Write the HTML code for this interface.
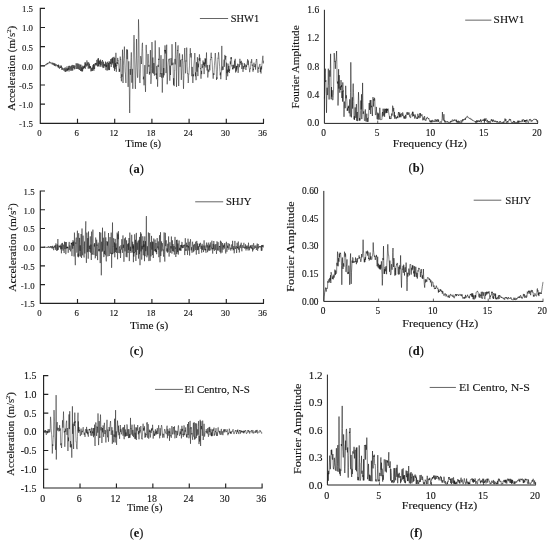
<!DOCTYPE html>
<html lang="en"><head><meta charset="utf-8"><title>Figure</title>
<style>html,body{margin:0;padding:0;background:#fff}svg{display:block}</style></head>
<body>
<svg width="550" height="545" viewBox="0 0 550 545" font-family='"Liberation Serif", serif' fill="#111" stroke="#111" stroke-width="0.12">
<rect width="550" height="545" fill="#fff" stroke="none"/>
<path d="M40.3 65.8L40.5 65.8L40.7 65.8L40.9 65.9L41.0 65.8L41.2 65.7L41.4 65.8L41.8 65.7L42.2 65.9L42.5 65.7L42.7 65.6L42.9 65.9L43.2 65.5L43.3 65.6L43.6 66.0L44.0 65.7L44.4 65.6L44.8 65.1L45.0 65.6L45.1 65.4L45.5 64.5L45.9 65.2L46.3 64.1L46.5 64.5L46.6 64.2L46.9 63.4L47.0 63.9L47.2 64.4L47.4 63.9L47.6 62.9L47.7 63.1L48.0 64.1L48.1 63.7L48.4 63.0L48.5 63.1L48.7 62.7L48.9 62.8L49.1 62.4L49.2 62.7L49.4 62.7L49.6 61.5L50.0 63.4L50.3 62.5L50.6 62.2L50.7 62.5L51.0 63.5L51.1 63.4L51.5 63.1L51.7 62.7L51.8 62.9L52.1 64.4L52.2 64.0L52.5 62.7L52.6 63.3L52.7 63.5L52.8 63.4L52.9 64.0L53.2 65.0L53.3 64.0L53.6 62.9L53.7 63.4L54.1 65.0L54.2 65.6L54.4 63.7L54.6 63.3L54.8 65.9L55.2 63.7L55.6 65.5L55.7 66.3L55.9 65.2L56.0 64.5L56.3 64.7L56.4 64.4L56.7 65.6L57.0 66.2L57.2 66.4L57.4 64.9L57.8 66.3L57.9 65.5L58.2 67.0L58.3 67.9L58.5 64.6L58.8 66.9L58.9 66.9L59.0 65.5L59.3 67.8L59.4 68.8L59.6 67.3L59.8 67.5L60.0 66.8L60.1 66.8L60.4 67.8L60.5 68.0L60.8 65.5L61.1 67.9L61.4 65.7L61.5 66.1L61.8 69.9L61.9 68.7L62.1 67.5L62.2 67.5L62.6 69.7L63.0 68.2L63.2 68.8L63.4 68.7L63.7 70.4L63.9 70.7L64.1 68.8L64.4 69.1L64.5 68.4L64.9 71.6L65.2 67.3L65.6 71.9L66.0 69.1L66.2 68.3L66.3 68.4L66.6 71.3L66.7 71.1L67.0 66.4L67.1 67.5L67.3 71.2L67.5 69.9L67.6 68.7L67.8 70.1L68.2 68.1L68.3 69.7L68.6 66.4L68.7 65.9L68.9 71.3L69.1 71.5L69.3 67.5L69.6 65.8L69.7 67.9L69.8 69.8L70.1 68.9L70.4 66.6L70.6 66.4L70.8 70.9L71.2 67.9L71.4 65.6L71.5 67.9L71.8 70.6L71.9 69.6L72.3 64.9L72.7 70.6L73.0 66.8L73.4 65.0L73.7 67.9L73.8 66.5L74.2 69.4L74.5 65.4L74.9 68.3L75.0 69.1L75.3 67.3L75.5 66.1L75.6 66.2L76.0 64.7L76.1 63.3L76.4 67.1L76.5 68.9L76.8 66.7L77.1 63.4L77.5 68.9L77.9 64.7L78.0 63.5L78.2 64.9L78.6 69.2L79.0 63.9L79.4 70.0L79.7 66.2L79.9 65.9L80.0 66.0L80.1 65.0L80.2 64.6L80.5 70.1L80.6 71.0L80.8 65.8L81.0 64.7L81.2 69.2L81.3 70.9L81.6 68.5L81.7 67.3L82.0 71.7L82.3 65.7L82.6 71.2L82.7 70.5L83.0 68.4L83.1 69.1L83.3 66.5L83.5 66.5L83.7 68.6L83.8 67.1L83.9 66.5L84.1 67.8L84.2 67.2L84.3 65.5L84.6 67.7L84.9 62.4L85.3 68.8L85.7 62.4L85.9 65.2L86.1 64.3L86.4 66.5L86.8 62.7L86.9 60.4L87.2 63.3L87.4 65.6L87.5 64.4L87.8 62.4L87.9 65.7L88.2 68.7L88.3 68.2L88.7 62.3L89.0 67.1L89.3 68.7L89.4 66.7L89.5 63.7L89.8 67.8L90.0 66.2L90.1 66.7L90.4 68.2L90.5 66.6L90.6 66.2L90.9 71.4L91.1 68.0L91.3 68.2L91.6 69.9L91.8 71.1L92.0 68.8L92.1 67.5L92.4 70.5L92.5 70.9L92.8 66.5L92.9 65.2L93.1 69.1L93.2 69.4L93.5 64.1L93.9 70.8L94.2 64.4L94.6 69.0L95.0 63.3L95.4 65.4L95.6 63.2L95.7 63.7L95.9 64.2L96.1 62.9L96.5 65.4L96.8 59.9L97.2 64.7L97.5 66.5L97.6 64.9L97.8 58.6L98.0 60.8L98.2 66.1L98.3 61.7L98.5 58.2L98.7 63.9L98.8 66.5L99.1 61.2L99.2 60.7L99.4 63.8L99.6 64.2L99.8 61.4L99.9 60.6L100.2 66.6L100.3 66.9L100.6 59.6L100.9 65.3L101.3 62.2L101.4 61.6L101.7 63.2L102.1 66.8L102.4 61.7L102.5 60.0L102.8 64.7L103.0 68.1L103.2 67.1L103.5 61.7L103.9 67.8L104.2 63.9L104.3 65.1L104.4 65.4L104.5 65.0L104.7 65.5L104.9 64.4L105.0 65.3L105.3 66.7L105.4 64.5L105.5 61.6L105.8 66.9L105.9 70.1L106.1 65.5L106.3 62.6L106.5 66.9L106.8 64.8L106.9 66.2L107.1 70.7L107.3 68.6L107.5 61.8L107.6 61.8L108.0 69.6L108.1 69.8L108.4 67.5L108.6 62.9L108.7 66.3L108.9 70.2L109.1 61.4L109.2 61.2L109.5 70.0L109.9 62.9L110.1 61.9L110.2 63.0L110.4 64.0L110.6 60.0L110.7 59.1L111.0 64.2L111.2 67.0L111.4 65.1L111.6 58.5L111.7 60.3L112.1 64.5L112.5 58.2L112.7 63.2L112.8 58.5L113.0 57.1L113.2 60.5L113.6 67.7L114.0 56.9L114.1 56.8L114.3 68.5L114.5 70.9L114.7 58.8L114.8 58.0L115.1 69.2L115.4 63.2L115.7 66.8L115.8 63.6L115.9 52.8L116.2 69.7L116.3 71.8L116.6 66.8L116.7 65.5L116.8 66.0L116.9 65.0L117.2 62.0L117.3 64.1L117.7 57.9L118.0 60.8L118.2 60.4L118.4 62.6L118.8 65.4L119.2 72.0L119.4 68.8L119.5 69.6L119.7 71.5L119.9 66.8L120.2 56.6L120.3 57.4L120.4 59.5L120.5 59.1L120.7 59.3L121.0 78.0L121.1 77.6L121.4 81.3L121.8 74.2L121.9 76.9L122.1 69.4L122.5 49.7L122.9 67.7L123.0 83.0L123.3 65.6L123.6 60.7L124.0 55.3L124.4 46.6L124.7 58.5L125.1 71.7L125.5 74.8L125.9 83.0L126.2 67.9L126.6 49.8L126.7 49.3L127.0 54.1L127.2 59.2L127.3 55.3L127.5 49.7L127.7 54.6L128.1 86.9L128.5 71.0L128.8 61.3L129.2 82.8L129.6 108.4L129.7 113.0L130.0 88.8L130.2 69.0L130.3 74.0L130.4 74.8L130.7 65.6L131.1 57.2L131.3 52.4L131.4 57.7L131.8 82.7L132.2 71.6L132.3 68.9L132.6 75.7L132.8 88.8L132.9 84.0L133.3 59.0L133.7 41.2L134.0 35.1L134.4 43.0L134.8 70.2L135.2 86.1L135.4 88.9L135.5 84.7L135.9 66.1L136.3 55.6L136.5 39.0L136.6 42.0L137.0 67.8L137.4 76.1L137.6 77.7L137.8 77.0L138.1 58.6L138.5 19.4L138.9 32.9L139.3 68.2L139.6 80.1L139.9 83.0L140.0 82.3L140.4 73.2L140.7 56.1L141.1 59.2L141.4 64.0L141.5 62.6L141.9 51.7L142.2 44.2L142.5 42.8L142.6 48.4L143.0 64.9L143.3 79.3L143.6 76.7L143.7 77.8L144.0 85.3L144.1 85.2L144.5 73.9L144.8 65.1L145.2 83.6L145.5 91.9L145.6 86.6L145.9 56.9L146.2 44.9L146.3 49.2L146.7 53.3L147.1 73.8L147.2 73.9L147.4 72.2L147.8 59.0L148.1 54.0L148.2 55.8L148.6 63.4L148.8 66.7L148.9 65.5L149.0 64.9L149.3 72.2L149.4 74.7L149.5 71.9L149.7 72.2L149.8 73.4L150.0 70.4L150.4 50.1L150.8 78.6L150.9 83.9L151.2 79.3L151.5 68.4L151.9 42.6L152.0 42.0L152.3 50.6L152.6 72.9L152.9 57.5L153.0 60.6L153.3 73.8L153.4 71.0L153.8 63.5L153.9 63.0L154.1 65.5L154.4 75.6L154.5 73.4L154.9 54.9L155.2 40.5L155.6 59.0L156.0 75.0L156.2 73.4L156.4 76.4L156.5 79.2L156.7 66.1L156.9 66.1L157.1 71.4L157.5 81.7L157.6 86.7L157.9 76.2L158.1 64.8L158.2 66.5L158.3 67.0L158.6 61.0L158.7 58.8L158.8 60.0L159.0 57.1L159.2 47.3L159.3 48.5L159.7 60.7L160.1 77.0L160.3 73.5L160.5 74.1L160.8 58.2L161.0 55.2L161.2 59.1L161.6 72.3L161.7 77.7L161.9 73.0L162.3 92.6L162.7 76.1L163.1 58.9L163.4 77.5L163.7 68.0L163.8 68.7L164.1 75.3L164.2 71.6L164.5 50.6L164.7 49.9L164.9 51.3L165.0 45.4L165.3 53.5L165.5 50.0L165.7 51.8L166.0 73.1L166.4 66.7L166.7 44.7L166.8 68.8L167.2 84.3L167.5 79.0L167.9 66.7L168.3 62.2L168.6 60.1L168.8 60.1L169.0 59.0L169.1 59.5L169.3 58.6L169.4 59.4L169.8 80.7L170.1 65.6L170.5 75.0L170.9 59.2L171.0 58.1L171.2 61.9L171.5 65.3L171.6 63.0L172.0 44.2L172.4 56.0L172.7 65.1L173.0 62.7L173.1 66.6L173.5 84.8L173.7 78.2L173.8 79.2L174.1 86.1L174.2 85.0L174.6 70.5L174.7 70.7L175.0 58.9L175.2 64.4L175.3 57.9L175.6 42.0L175.7 42.2L176.1 54.6L176.5 86.9L176.8 71.4L177.2 58.2L177.6 50.2L177.7 50.8L177.9 46.1L178.1 45.4L178.3 61.1L178.7 86.0L179.1 70.7L179.4 54.9L179.6 53.4L179.8 56.4L180.0 66.8L180.2 66.4L180.5 60.6L180.7 59.8L180.9 68.6L181.3 79.9L181.7 69.9L181.9 59.4L182.0 59.6L182.2 60.1L182.4 54.4L182.8 64.4L183.1 75.4L183.5 88.8L183.9 75.4L184.1 61.3L184.3 61.4L184.6 49.4L184.8 48.0L185.0 59.2L185.4 64.1L185.6 73.3L185.8 70.3L186.0 60.6L186.1 60.7L186.2 61.4L186.5 52.3L186.7 47.6L186.9 50.1L187.2 66.2L187.6 73.8L187.7 73.4L188.0 78.4L188.2 83.0L188.4 81.6L188.7 73.9L188.9 74.2L189.1 72.3L189.5 65.8L189.8 54.1L190.0 54.3L190.2 49.4L190.3 48.2L190.6 56.0L191.0 57.5L191.3 53.1L191.7 74.3L191.8 76.2L192.1 72.4L192.2 66.9L192.4 72.8L192.8 82.7L192.9 83.0L193.2 76.2L193.3 74.3L193.4 76.3L193.6 74.7L193.9 65.1L194.3 60.3L194.7 56.0L194.8 53.0L195.1 59.9L195.4 76.3L195.5 72.4L195.8 76.2L196.0 80.2L196.2 79.6L196.5 62.2L196.9 69.4L197.0 71.7L197.3 60.9L197.4 57.2L197.7 66.4L197.9 76.1L198.0 69.8L198.2 63.6L198.4 67.3L198.8 60.4L198.9 58.7L199.0 59.5L199.1 59.5L199.4 54.3L199.5 54.7L199.8 61.1L199.9 57.9L200.3 65.7L200.4 68.6L200.5 68.0L200.6 72.5L201.0 78.7L201.4 72.0L201.5 70.9L201.7 74.2L202.0 64.2L202.1 64.7L202.2 68.1L202.5 67.0L202.6 66.7L202.7 67.0L202.9 64.5L203.0 60.5L203.2 64.4L203.4 64.8L203.6 62.3L204.0 69.9L204.1 74.1L204.4 64.3L204.5 62.6L204.7 66.2L205.0 58.3L205.1 58.8L205.2 63.8L205.5 61.2L205.6 58.7L205.8 67.4L206.0 67.4L206.2 60.6L206.5 52.5L206.6 57.6L207.0 69.1L207.1 70.5L207.3 65.1L207.7 76.8L207.8 77.5L208.1 74.8L208.4 69.7L208.6 69.7L208.8 72.1L208.9 72.1L209.2 67.2L209.3 64.9L209.6 67.8L209.8 70.4L209.9 70.2L210.3 61.3L210.4 59.6L210.7 60.0L211.0 54.3L211.2 52.7L211.4 57.1L211.5 58.0L211.7 57.3L211.8 58.5L212.2 62.7L212.5 69.4L212.9 75.9L213.2 78.7L213.3 77.4L213.7 73.2L213.9 75.0L214.0 73.0L214.4 65.7L214.8 60.3L215.1 55.4L215.3 53.0L215.5 56.3L215.9 61.7L216.3 69.4L216.5 80.0L216.6 79.4L216.9 77.4L217.0 77.7L217.1 78.8L217.4 71.5L217.7 63.0L218.0 57.9L218.1 58.4L218.5 52.9L218.6 52.3L218.9 55.9L219.2 60.4L219.6 66.5L220.0 72.0L220.2 75.3L220.3 74.3L220.5 72.5L220.7 77.8L220.8 79.2L221.1 75.2L221.5 70.8L221.8 45.9L222.1 70.3L222.2 69.0L222.6 66.5L223.0 69.6L223.1 69.9L223.3 68.9L223.7 65.6L224.1 59.6L224.3 66.8L224.4 63.9L224.8 55.5L224.9 54.9L225.2 59.5L225.3 59.3L225.4 59.4L225.6 57.4L225.7 56.2L225.8 57.1L225.9 56.4L226.3 80.0L226.5 62.7L226.7 63.6L227.0 73.2L227.3 69.6L227.4 69.9L227.7 76.3L227.8 72.8L228.0 63.6L228.2 65.9L228.4 72.0L228.5 70.1L228.8 65.9L228.9 67.3L229.3 73.0L229.4 69.4L229.6 70.9L230.0 67.4L230.3 61.4L230.4 63.1L230.5 64.3L230.8 58.6L230.9 57.3L231.1 59.0L231.4 57.2L231.5 58.1L231.9 66.2L232.0 66.5L232.1 65.2L232.3 65.2L232.5 69.2L232.6 67.7L232.7 67.6L233.0 69.4L233.4 65.8L233.5 64.8L233.7 66.8L233.9 68.4L234.1 65.6L234.2 68.1L234.5 61.0L234.6 60.6L234.9 65.8L235.2 58.8L235.6 72.5L236.0 65.9L236.3 71.4L236.6 65.9L236.7 67.5L236.8 69.5L237.1 66.8L237.2 66.5L237.3 67.1L237.5 66.9L237.7 63.7L237.8 66.5L238.1 72.9L238.2 72.4L238.6 67.7L238.7 67.9L238.9 64.4L239.1 64.2L239.3 67.1L239.7 60.3L239.9 58.8L240.1 60.2L240.3 62.8L240.4 61.7L240.8 64.7L241.2 62.7L241.3 60.8L241.6 64.1L241.8 69.0L241.9 67.6L242.2 62.7L242.3 64.6L242.7 67.2L243.0 71.9L243.4 66.1L243.8 68.5L243.9 69.1L244.2 65.1L244.3 63.1L244.5 66.8L244.7 67.2L244.8 66.7L244.9 66.8L245.1 64.4L245.3 65.5L245.4 66.3L245.5 66.3L245.6 67.9L245.9 70.0L246.0 69.7L246.3 64.9L246.4 65.7L246.5 67.1L246.8 65.2L247.1 63.1L247.5 60.2L247.6 59.2L247.9 63.9L248.0 65.0L248.2 60.8L248.4 60.5L248.6 64.8L249.0 67.0L249.4 69.0L249.7 72.2L250.1 68.7L250.2 68.7L250.5 69.0L250.9 62.5L251.0 61.7L251.2 62.7L251.6 59.4L251.7 59.1L252.0 63.3L252.2 65.7L252.3 64.8L252.5 64.7L252.7 68.8L253.0 71.7L253.1 69.9L253.2 68.7L253.5 70.1L253.8 63.8L254.0 62.7L254.2 66.9L254.3 67.0L254.6 66.9L254.7 66.7L254.9 67.0L255.2 64.2L255.3 64.3L255.6 69.6L255.7 65.5L256.1 61.2L256.2 61.3L256.4 59.1L256.7 59.7L256.8 59.4L257.2 65.6L257.5 68.8L257.9 72.0L258.0 72.8L258.3 69.5L258.4 67.5L258.7 68.8L258.8 68.8L259.0 66.5L259.2 66.6L259.4 65.4L259.8 64.5L259.9 63.9L260.2 68.4L260.3 72.0L260.5 68.0L260.6 67.5L260.9 72.8L261.0 73.5L261.3 66.2L261.6 69.4L262.0 63.8L262.4 60.2L262.8 56.5L262.9 55.8L263.1 62.3L263.3 63.4L263.5 60.7" fill="none" stroke="#000" stroke-width="0.44" stroke-linejoin="miter" stroke-miterlimit="3"/>
<g stroke="#222" stroke-width="1.15" fill="none">
<path d="M40.30 7.80V123.30H264.00M40.30 8.30h4.7M40.30 27.47h4.7M40.30 46.63h4.7M40.30 65.80h4.7M40.30 84.97h4.7M40.30 104.13h4.7M77.50 123.30v-4.5M114.70 123.30v-4.5M151.90 123.30v-4.5M189.10 123.30v-4.5M226.30 123.30v-4.5M263.50 123.30v-4.5"/>
</g>
<g font-size="8.8">
<text x="33.0" y="12.2" text-anchor="end">1.5</text>
<text x="33.0" y="31.4" text-anchor="end">1.0</text>
<text x="33.0" y="50.5" text-anchor="end">0.5</text>
<text x="33.0" y="69.7" text-anchor="end">0.0</text>
<text x="33.0" y="88.9" text-anchor="end">-0.5</text>
<text x="33.0" y="108.0" text-anchor="end">-1.0</text>
<text x="33.0" y="127.2" text-anchor="end">-1.5</text>
<text x="39.4" y="135.9" text-anchor="middle">0</text>
<text x="76.6" y="135.9" text-anchor="middle">6</text>
<text x="113.8" y="135.9" text-anchor="middle">12</text>
<text x="151.0" y="135.9" text-anchor="middle">18</text>
<text x="188.2" y="135.9" text-anchor="middle">24</text>
<text x="225.4" y="135.9" text-anchor="middle">30</text>
<text x="262.6" y="135.9" text-anchor="middle">36</text>
</g>
<text font-size="10.6" transform="translate(125.30 147.00) scale(0.9988 1)">Time (s)</text>
<text font-size="10.7" transform="translate(14.70 110.70) rotate(-90) scale(1.0211 1)">Acceleration (m/s<tspan font-size="6.42" dy="-3.3">2</tspan><tspan dy="3.3">)</tspan></text>
<path d="M40.3 247.2L40.4 247.2L40.7 247.2L41.0 247.4L41.2 247.4L41.4 247.1L41.7 247.0L41.8 247.1L42.0 247.4L42.2 247.4L42.3 247.2L42.5 247.5L42.7 247.6L42.9 246.9L43.0 246.8L43.3 247.2L43.4 247.4L43.6 247.1L43.9 247.3L44.0 247.0L44.3 246.5L44.4 246.7L44.8 247.9L45.1 247.0L45.4 246.9L45.5 247.0L45.8 247.1L45.9 247.1L46.0 247.0L46.3 247.5L46.4 247.5L46.6 247.0L46.7 246.9L47.0 247.5L47.1 247.8L47.4 247.5L47.6 246.8L47.7 247.0L48.1 247.6L48.5 246.3L48.9 247.5L49.2 246.7L49.6 247.7L50.0 248.0L50.3 246.5L50.5 246.1L50.7 247.4L50.8 247.5L51.1 246.4L51.3 247.7L51.5 247.6L51.8 246.3L52.2 248.7L52.6 245.8L52.9 247.4L53.1 248.0L53.3 246.9L53.7 250.2L54.1 247.6L54.3 245.8L54.4 246.5L54.6 246.3L54.8 247.4L54.9 247.7L55.2 245.5L55.3 245.1L55.6 249.8L55.9 243.4L56.3 246.5L56.7 250.2L56.8 251.0L57.0 246.2L57.2 244.4L57.4 249.0L57.5 250.3L57.8 239.7L57.9 239.0L58.2 249.9L58.5 247.7L58.9 245.5L59.3 247.1L59.5 246.2L59.6 246.2L59.9 247.5L60.0 247.3L60.3 244.7L60.4 245.8L60.6 249.3L60.8 248.3L61.0 245.9L61.1 247.6L61.4 253.3L61.5 251.1L61.8 243.5L61.9 246.7L62.0 249.2L62.2 244.2L62.4 242.9L62.6 245.1L63.0 250.7L63.4 245.9L63.6 244.6L63.7 244.9L64.1 253.0L64.5 244.3L64.6 241.6L64.9 247.6L65.0 249.1L65.2 245.7L65.3 242.1L65.6 247.4L65.8 254.2L66.0 252.4L66.3 242.0L66.7 248.5L66.8 246.8L67.1 248.2L67.5 246.8L67.6 248.1L67.8 246.9L68.2 252.8L68.6 246.7L68.9 244.0L69.2 241.9L69.3 242.6L69.7 249.9L69.9 245.4L70.1 245.7L70.4 251.4L70.7 250.0L70.8 250.0L71.2 242.7L71.4 244.3L71.5 243.0L71.9 255.6L72.0 256.1L72.3 243.5L72.4 242.2L72.7 248.7L73.0 240.2L73.4 245.8L73.7 241.6L73.8 249.5L74.0 256.5L74.2 254.1L74.4 232.6L74.5 233.6L74.9 250.8L75.3 265.2L75.6 242.6L75.8 243.6L76.0 239.1L76.3 237.6L76.4 239.9L76.8 251.7L76.9 252.7L77.1 244.9L77.4 230.7L77.5 237.9L77.9 256.6L78.1 253.5L78.2 255.7L78.4 257.3L78.6 239.7L78.7 233.2L79.0 248.0L79.1 256.3L79.4 245.3L79.6 237.9L79.7 242.7L80.0 250.9L80.1 249.0L80.2 245.3L80.5 253.9L80.6 256.6L80.8 244.7L81.1 234.0L81.2 242.0L81.5 258.0L81.6 257.6L82.0 228.5L82.3 251.7L82.6 255.3L82.7 250.8L83.1 235.6L83.5 246.4L83.8 255.4L84.1 257.5L84.2 256.2L84.6 241.5L84.9 253.5L85.3 235.2L85.7 225.4L85.8 221.3L86.1 252.2L86.4 262.9L86.8 237.2L86.9 232.6L87.2 241.8L87.4 252.2L87.5 248.3L87.8 238.1L87.9 244.3L88.2 258.7L88.3 251.1L88.5 231.5L88.7 247.6L88.9 250.8L89.0 250.6L89.2 251.9L89.4 245.7L89.8 249.2L90.1 242.0L90.3 236.4L90.5 247.8L90.6 252.7L90.9 244.6L91.3 260.0L91.6 231.6L92.0 254.5L92.1 254.9L92.3 253.7L92.4 254.0L92.8 235.6L92.9 229.6L93.1 242.5L93.5 250.7L93.9 254.9L94.2 244.4L94.4 246.5L94.6 243.0L95.0 248.2L95.2 258.3L95.4 257.9L95.7 237.5L96.1 247.0L96.2 256.1L96.5 243.8L96.7 239.7L96.8 242.5L97.0 245.7L97.2 244.6L97.6 260.1L98.0 244.1L98.1 242.6L98.3 243.7L98.7 248.7L98.8 251.1L99.1 249.0L99.2 251.4L99.4 242.6L99.6 232.0L99.8 242.5L100.2 263.1L100.6 239.8L100.8 232.6L100.9 237.0L101.3 275.3L101.7 241.7L102.1 251.7L102.2 251.8L102.4 247.5L102.5 227.7L102.8 250.6L102.9 250.8L103.2 243.2L103.3 237.7L103.5 242.4L103.8 257.1L103.9 257.0L104.2 250.8L104.3 253.0L104.4 254.0L104.7 237.4L104.8 231.4L105.0 246.4L105.3 255.3L105.4 253.0L105.8 237.4L106.1 259.3L106.3 261.4L106.5 254.8L106.9 241.1L107.3 245.6L107.5 241.8L107.6 245.9L107.9 256.4L108.0 252.8L108.4 238.1L108.5 233.0L108.7 243.9L109.0 255.5L109.1 255.0L109.4 255.7L109.5 254.2L109.9 240.4L110.0 237.1L110.2 251.2L110.5 253.8L110.6 253.2L111.0 240.9L111.2 232.6L111.4 239.9L111.6 267.8L111.7 264.7L111.8 252.9L112.1 254.1L112.5 222.5L112.8 254.2L113.2 246.1L113.3 246.3L113.6 240.3L113.7 238.2L114.0 246.3L114.1 253.0L114.3 247.8L114.5 242.5L114.7 252.4L114.8 257.3L115.1 243.9L115.2 238.9L115.4 250.0L115.6 252.1L115.8 244.5L115.9 243.5L116.2 249.7L116.4 247.8L116.6 252.2L116.7 253.0L116.9 248.2L117.2 232.6L117.3 250.3L117.6 259.3L117.7 253.4L117.9 234.3L118.0 236.6L118.2 239.2L118.4 231.2L118.8 252.5L118.9 253.0L119.2 248.4L119.4 246.4L119.5 246.7L119.9 251.7L120.0 253.3L120.3 249.5L120.5 258.0L120.7 255.7L120.9 245.3L121.0 246.5L121.3 249.6L121.4 246.4L121.8 239.2L122.1 244.7L122.4 252.9L122.5 249.8L122.9 235.8L123.0 235.4L123.3 247.9L123.5 244.7L123.6 245.9L123.9 261.8L124.0 261.4L124.4 239.5L124.5 238.5L124.7 245.1L125.0 251.4L125.1 250.5L125.5 237.4L125.9 246.9L126.1 256.8L126.2 255.8L126.6 240.3L127.0 257.3L127.3 247.4L127.7 244.1L128.1 253.0L128.3 243.1L128.5 245.1L128.7 249.9L128.8 243.5L129.0 238.0L129.2 251.3L129.3 261.1L129.6 249.1L129.8 232.6L130.0 237.1L130.3 249.6L130.4 251.0L130.7 246.7L130.9 252.9L131.1 251.5L131.4 247.5L131.7 234.8L131.8 236.0L132.2 251.5L132.3 252.5L132.6 242.9L132.7 241.7L132.9 248.5L133.2 244.1L133.3 249.9L133.4 262.2L133.5 245.6L133.7 245.6L133.9 256.6L134.0 254.8L134.2 252.1L134.3 253.1L134.4 250.5L134.7 234.3L134.8 239.6L135.2 251.9L135.5 239.8L135.9 261.0L136.3 233.1L136.4 232.9L136.6 254.4L136.8 254.9L137.0 242.7L137.1 242.8L137.3 242.7L137.4 244.0L137.6 249.8L137.8 248.6L138.1 240.8L138.5 258.6L138.9 244.7L139.0 239.8L139.3 252.0L139.4 254.2L139.6 236.9L140.0 265.2L140.4 244.2L140.6 232.2L140.7 233.5L141.0 251.4L141.1 248.3L141.2 233.7L141.5 253.3L141.7 259.6L141.9 256.2L142.1 245.8L142.2 248.7L142.4 249.3L142.6 243.8L142.8 236.3L143.0 238.5L143.3 255.3L143.6 240.8L143.7 242.6L143.8 247.1L144.1 244.4L144.5 261.2L144.8 236.4L145.1 256.2L145.2 254.6L145.5 241.2L145.6 242.7L145.8 251.2L145.9 250.3L146.3 217.4L146.4 216.1L146.7 250.7L146.9 257.3L147.1 254.4L147.3 246.2L147.4 246.4L147.8 255.4L148.2 239.7L148.4 232.5L148.6 237.1L148.9 261.1L149.3 242.8L149.7 233.1L150.0 257.1L150.2 260.8L150.4 248.2L150.5 242.2L150.8 248.5L151.0 256.4L151.2 254.0L151.5 235.9L151.9 249.6L152.3 241.5L152.5 255.1L152.6 253.3L152.9 242.1L153.0 245.9L153.3 258.0L153.4 255.9L153.8 238.5L154.1 248.2L154.3 251.2L154.5 248.7L154.9 242.5L155.1 239.6L155.2 245.1L155.4 250.8L155.5 249.1L155.6 250.4L155.7 252.2L156.0 243.0L156.4 252.0L156.6 250.4L156.7 254.2L157.1 238.9L157.2 238.1L157.5 245.9L157.6 247.6L157.7 246.7L157.9 247.5L158.1 249.7L158.2 245.4L158.3 241.4L158.6 249.3L158.8 257.2L159.0 254.7L159.3 241.2L159.5 235.2L159.7 245.6L160.0 262.3L160.1 255.3L160.5 232.2L160.8 256.0L161.2 246.4L161.6 241.4L161.8 251.4L161.9 251.1L162.3 243.1L162.7 247.6L162.8 250.0L162.9 249.8L163.1 250.4L163.3 249.8L163.4 254.2L163.6 256.7L163.8 246.8L164.1 232.4L164.2 234.9L164.5 254.5L164.8 261.6L164.9 257.1L165.3 232.8L165.7 245.8L165.8 246.2L166.0 243.2L166.2 240.3L166.4 251.0L166.5 251.4L166.8 250.4L167.0 248.4L167.2 249.1L167.4 252.7L167.5 251.6L167.8 243.7L167.9 247.4L168.0 251.8L168.3 246.2L168.6 236.4L169.0 254.7L169.1 256.6L169.4 250.6L169.8 247.1L169.9 242.2L170.1 247.3L170.4 252.8L170.5 252.1L170.9 246.1L171.1 248.5L171.2 242.8L171.4 236.5L171.6 245.3L171.9 253.6L172.0 251.3L172.4 240.3L172.7 251.1L173.1 244.1L173.5 250.9L173.7 251.6L173.8 248.6L174.0 246.0L174.2 252.4L174.3 254.6L174.6 250.3L175.0 236.9L175.3 248.6L175.6 247.6L175.7 252.7L175.8 257.0L176.1 252.0L176.5 240.0L176.8 254.0L177.2 239.7L177.6 252.2L177.9 243.5L178.3 254.6L178.7 246.5L179.1 240.5L179.4 250.0L179.7 247.8L179.8 249.3L179.9 251.0L180.2 249.8L180.3 248.8L180.4 249.7L180.5 247.9L180.7 245.0L180.9 250.3L181.0 250.9L181.3 247.0L181.4 244.8L181.7 247.5L181.9 241.9L182.0 242.0L182.4 248.2L182.8 245.3L183.1 248.0L183.4 247.0L183.5 247.2L183.8 245.0L183.9 245.1L184.0 246.4L184.3 244.5L184.6 253.2L184.8 255.1L185.0 249.8L185.3 238.2L185.4 243.2L185.8 250.9L186.0 249.4L186.1 250.6L186.5 242.7L186.9 247.0L187.1 245.0L187.2 246.9L187.5 254.9L187.6 253.5L188.0 238.7L188.2 247.5L188.4 247.3L188.5 246.2L188.7 249.8L188.9 250.6L189.1 243.1L189.2 241.8L189.5 252.0L189.6 255.5L189.8 249.0L190.2 243.8L190.5 239.2L190.6 240.7L191.0 248.1L191.2 250.3L191.3 250.3L191.6 247.2L191.7 249.7L192.0 252.8L192.1 251.3L192.4 241.9L192.6 241.7L192.8 244.6L193.2 251.1L193.3 252.2L193.6 247.5L193.7 244.7L193.9 249.7L194.1 251.2L194.3 247.3L194.6 243.9L194.7 244.3L195.1 248.2L195.3 249.9L195.4 248.4L195.7 241.7L195.8 243.0L196.2 252.6L196.3 254.6L196.5 246.8L196.8 240.9L196.9 242.9L197.3 250.2L197.7 243.4L198.0 249.5L198.2 249.9L198.4 246.2L198.8 251.8L198.9 254.0L199.1 250.0L199.4 244.0L199.5 244.5L199.6 246.7L199.9 243.5L200.1 244.3L200.3 243.3L200.4 242.8L200.6 247.6L200.9 248.9L201.0 248.5L201.4 245.7L201.7 252.7L202.1 243.8L202.4 249.9L202.5 249.1L202.7 246.9L202.9 247.1L203.1 245.5L203.2 247.1L203.5 252.1L203.6 249.1L204.0 241.0L204.1 240.3L204.4 245.6L204.7 250.2L205.0 245.5L205.1 246.7L205.5 250.3L205.7 249.1L205.8 251.5L206.0 252.8L206.2 245.7L206.5 242.6L206.6 243.6L207.0 247.5L207.2 244.8L207.3 246.6L207.6 252.2L207.7 250.0L208.1 245.5L208.3 242.6L208.4 246.1L208.7 250.5L208.8 249.1L209.1 245.8L209.2 248.4L209.3 250.8L209.6 246.7L209.7 244.5L209.9 247.3L210.3 242.4L210.7 249.2L210.8 250.4L211.0 249.0L211.3 247.7L211.4 248.2L211.8 241.8L211.9 240.7L212.2 249.1L212.4 248.0L212.5 250.5L212.7 253.6L212.9 248.1L213.2 243.9L213.3 247.1L213.4 249.3L213.7 245.1L213.8 241.0L214.0 245.8L214.3 251.0L214.4 250.1L214.8 245.8L214.9 244.6L215.1 245.9L215.4 249.9L215.5 249.7L215.9 244.0L216.3 250.4L216.5 253.9L216.6 251.3L217.0 241.3L217.4 247.7L217.6 250.5L217.7 247.9L218.1 242.2L218.5 249.0L218.7 250.5L218.9 250.5L219.2 246.5L219.4 246.2L219.6 246.9L219.7 246.1L220.0 252.1L220.3 242.0L220.5 240.7L220.7 249.9L220.8 253.4L221.1 248.8L221.3 241.7L221.5 243.4L221.8 249.5L222.1 252.6L222.2 251.9L222.6 243.0L223.0 249.0L223.1 249.7L223.3 245.5L223.4 245.5L223.7 247.3L223.8 247.3L224.1 244.5L224.3 248.6L224.4 246.7L224.7 243.0L224.8 243.2L225.2 248.8L225.6 252.1L225.8 253.5L225.9 250.0L226.3 242.5L226.4 241.8L226.7 246.8L226.9 251.8L227.0 250.9L227.4 247.0L227.5 245.7L227.8 248.0L228.0 243.1L228.2 243.9L228.5 248.3L228.9 249.8L229.3 244.6L229.4 243.8L229.6 245.3L229.8 244.9L230.0 248.0L230.1 248.6L230.3 247.7L230.4 248.3L230.8 250.6L231.1 248.5L231.4 249.1L231.5 247.6L231.8 244.4L231.9 246.4L232.1 248.9L232.3 248.7L232.6 240.8L233.0 249.0L233.1 250.4L233.4 248.7L233.5 249.4L233.7 246.7L233.9 246.0L234.1 250.7L234.2 253.3L234.5 249.4L234.9 240.9L235.2 246.5L235.5 249.0L235.6 248.3L236.0 247.0L236.2 246.1L236.3 246.7L236.6 253.0L236.7 252.2L237.1 242.8L237.5 248.1L237.6 247.3L237.8 248.5L238.2 243.3L238.3 241.5L238.6 247.3L238.7 249.8L238.9 247.2L239.1 246.4L239.3 252.5L239.7 247.6L239.8 245.9L239.9 246.1L240.1 246.1L240.3 244.7L240.4 244.7L240.7 248.1L240.8 247.5L241.2 242.7L241.6 249.5L241.9 251.3L242.3 245.9L242.4 245.2L242.7 247.0L242.8 247.2L242.9 247.0L243.0 247.6L243.2 248.0L243.3 247.6L243.4 247.7L243.8 243.4L243.9 242.8L244.2 246.4L244.4 248.5L244.5 248.4L244.8 246.8L244.9 247.0L245.3 248.4L245.5 244.3L245.6 245.2L246.0 250.5L246.4 245.7L246.8 248.8L247.0 247.7L247.1 248.2L247.3 248.3L247.5 245.9L247.8 245.5L247.9 245.8L248.1 250.5L248.2 247.5L248.5 242.7L248.6 244.3L248.9 248.3L249.0 247.9L249.1 247.1L249.4 250.3L249.7 246.7L249.9 246.5L250.0 247.0L250.1 246.9L250.4 245.6L250.5 247.1L250.6 248.3L250.9 245.8L251.0 245.2L251.2 247.3L251.3 247.7L251.5 246.9L251.6 247.2L251.7 248.9L252.0 247.6L252.2 244.8L252.3 246.7L252.6 251.5L252.7 249.7L252.8 248.2L253.1 249.8L253.2 250.2L253.5 244.6L253.6 243.2L253.8 244.4L254.2 248.6L254.3 248.9L254.6 247.2L254.8 245.7L254.9 246.2L255.3 247.9L255.4 248.0L255.7 247.1L255.9 245.4L256.1 246.4L256.3 250.0L256.4 249.6L256.7 247.8L256.8 248.0L257.2 243.5L257.5 249.7L257.7 250.8L257.9 247.1L258.2 244.0L258.3 245.7L258.5 248.4L258.7 247.7L258.9 246.7L259.0 247.1L259.3 247.2L259.4 246.8L259.5 246.4L259.8 247.0L260.0 246.3L260.2 247.2L260.3 247.3L260.4 247.2L260.5 247.2L260.8 246.0L260.9 246.5L261.3 250.8L261.6 245.1L261.9 250.7L262.0 250.1L262.3 245.0L262.4 245.6L262.8 247.0L263.1 244.9L263.5 247.6" fill="none" stroke="#000" stroke-width="0.44" stroke-linejoin="miter" stroke-miterlimit="3"/>
<g stroke="#222" stroke-width="1.15" fill="none">
<path d="M40.30 190.50V303.40H264.00M40.30 191.00h4.7M40.30 209.73h4.7M40.30 228.47h4.7M40.30 247.20h4.7M40.30 265.93h4.7M40.30 284.67h4.7M77.50 303.40v-4.5M114.70 303.40v-4.5M151.90 303.40v-4.5M189.10 303.40v-4.5M226.30 303.40v-4.5M263.50 303.40v-4.5"/>
</g>
<g font-size="8.8">
<text x="34.6" y="194.9" text-anchor="end">1.5</text>
<text x="34.6" y="213.6" text-anchor="end">1.0</text>
<text x="34.6" y="232.4" text-anchor="end">0.5</text>
<text x="34.6" y="251.1" text-anchor="end">0.0</text>
<text x="34.6" y="269.8" text-anchor="end">-0.5</text>
<text x="34.6" y="288.6" text-anchor="end">-1.0</text>
<text x="34.6" y="307.3" text-anchor="end">-1.5</text>
<text x="39.4" y="316.2" text-anchor="middle">0</text>
<text x="76.6" y="316.2" text-anchor="middle">6</text>
<text x="113.8" y="316.2" text-anchor="middle">12</text>
<text x="151.0" y="316.2" text-anchor="middle">18</text>
<text x="188.2" y="316.2" text-anchor="middle">24</text>
<text x="225.4" y="316.2" text-anchor="middle">30</text>
<text x="262.6" y="316.2" text-anchor="middle">36</text>
</g>
<text font-size="10.8" transform="translate(130.00 328.60) scale(1.0461 1)">Time (s)</text>
<text font-size="11.0" transform="translate(15.50 291.80) rotate(-90) scale(1.0366 1)">Acceleration (m/s<tspan font-size="6.60" dy="-3.3">2</tspan><tspan dy="3.3">)</tspan></text>
<path d="M43.6 431.9L43.7 431.8L43.8 431.8L44.0 431.7L44.3 430.8L44.6 431.2L44.7 431.0L44.9 430.2L45.1 430.4L45.3 431.1L45.4 430.9L45.7 430.2L45.8 431.0L46.1 434.3L46.4 434.9L46.5 434.3L46.8 433.2L46.9 433.3L47.2 431.8L47.4 431.7L47.6 433.2L48.0 430.0L48.1 429.2L48.3 430.5L48.7 432.3L48.8 432.7L49.1 430.2L49.3 429.2L49.4 430.3L49.7 432.3L49.8 431.9L49.9 431.2L50.0 431.3L50.2 429.8L50.5 417.3L50.6 416.8L50.9 421.0L51.2 428.5L51.6 434.6L52.0 442.1L52.3 453.5L52.7 444.4L52.8 445.9L53.1 439.3L53.3 435.9L53.4 436.3L53.8 416.4L54.0 410.1L54.2 413.0L54.5 421.3L54.9 436.3L55.3 443.7L55.6 449.8L56.0 433.3L56.1 395.1L56.3 459.5L56.7 428.9L57.1 423.1L57.2 422.1L57.4 428.8L57.6 430.6L57.8 427.7L57.9 427.7L58.2 428.8L58.3 429.3L58.4 428.4L58.5 428.6L58.9 431.4L59.1 430.4L59.3 430.9L59.6 425.2L60.0 430.6L60.2 428.4L60.4 431.0L60.7 445.2L61.0 443.9L61.1 444.0L61.2 443.4L61.4 446.9L61.6 448.0L61.8 444.0L62.2 431.4L62.5 420.3L62.9 427.2L63.0 427.7L63.3 418.2L63.5 411.6L63.6 415.2L64.0 427.9L64.2 432.4L64.4 431.5L64.5 430.9L64.7 444.2L64.8 446.8L65.1 440.8L65.3 428.6L65.5 429.1L65.7 431.8L65.8 431.1L66.2 423.4L66.5 420.8L66.7 420.7L66.9 432.2L67.0 434.9L67.3 428.0L67.6 442.3L67.9 451.0L68.0 450.4L68.4 437.5L68.5 441.2L68.7 426.2L69.0 414.4L69.1 421.8L69.3 429.1L69.5 426.9L69.7 411.2L69.8 411.8L70.2 444.6L70.3 447.2L70.5 441.1L70.9 444.2L71.0 447.5L71.3 444.3L71.6 452.9L71.8 457.7L72.0 450.9L72.4 406.3L72.6 433.8L72.7 432.9L73.1 423.7L73.5 439.1L73.6 449.0L73.8 427.2L74.2 421.9L74.4 426.0L74.6 422.3L74.8 412.6L74.9 417.7L75.0 422.8L75.3 421.2L75.6 429.3L76.0 438.8L76.1 442.0L76.3 441.9L76.4 443.6L76.6 447.5L76.7 447.4L77.0 449.2L77.1 447.8L77.5 436.5L77.8 418.9L78.0 412.7L78.2 431.4L78.4 421.4L78.6 430.5L78.7 432.9L78.9 427.1L79.0 427.1L79.3 430.6L79.4 431.2L79.7 429.9L80.0 433.1L80.3 436.1L80.4 435.5L80.7 433.7L81.0 428.6L81.1 428.8L81.5 434.1L81.7 434.8L81.8 434.3L82.1 430.8L82.2 431.1L82.3 432.2L82.6 431.0L82.9 428.7L83.2 427.2L83.3 428.6L83.7 432.1L84.0 434.3L84.1 434.8L84.3 434.6L84.4 434.7L84.6 432.7L84.8 433.5L85.0 436.9L85.1 433.8L85.4 429.7L85.5 430.0L85.6 429.5L85.8 429.7L86.0 429.6L86.2 432.8L86.6 426.9L86.9 433.3L87.2 429.5L87.3 430.6L87.5 434.3L87.7 433.4L87.8 432.1L88.0 433.9L88.3 436.7L88.4 434.3L88.8 431.1L88.9 429.5L89.1 430.0L89.5 428.9L89.7 430.4L89.8 430.0L90.0 429.3L90.2 431.7L90.3 432.9L90.6 431.0L90.9 435.6L91.3 428.7L91.5 427.8L91.7 430.2L91.9 435.9L92.0 435.3L92.4 432.9L92.5 431.5L92.8 433.2L93.0 428.0L93.1 428.7L93.5 437.2L93.9 428.0L94.2 435.6L94.6 424.6L94.9 444.8L95.1 446.0L95.3 430.8L95.7 423.4L95.8 422.4L95.9 423.3L96.0 423.1L96.4 430.3L96.6 435.9L96.8 431.1L96.9 426.5L97.0 427.0L97.1 427.0L97.3 427.5L97.4 427.1L97.5 427.5L97.7 432.7L97.9 432.3L98.0 413.4L98.2 433.1L98.6 445.1L99.0 434.7L99.2 421.1L99.3 426.7L99.7 437.7L99.8 436.7L99.9 437.6L100.0 437.4L100.4 416.8L100.5 414.6L100.8 424.5L101.0 430.4L101.1 428.0L101.3 427.2L101.5 431.0L101.9 443.0L102.2 434.5L102.5 428.0L102.6 430.6L102.7 432.4L103.0 427.6L103.1 425.4L103.3 429.1L103.6 436.9L103.7 436.6L104.1 426.6L104.4 422.8L104.8 431.6L104.9 434.1L105.1 430.4L105.3 431.0L105.4 430.6L105.5 432.5L105.9 442.5L106.2 433.4L106.6 430.3L107.0 419.8L107.3 434.4L107.6 437.3L107.7 435.3L107.9 429.5L108.1 431.6L108.4 440.4L108.5 441.7L108.8 434.9L109.0 427.0L109.2 427.3L109.5 429.8L109.6 431.1L109.9 427.5L110.2 423.8L110.5 421.0L110.6 421.6L111.0 431.0L111.2 434.9L111.3 433.0L111.5 431.9L111.6 431.9L111.7 430.3L111.9 427.2L112.1 429.7L112.3 443.8L112.4 441.8L112.7 430.4L112.8 432.6L112.9 434.2L113.0 434.0L113.2 436.0L113.5 442.3L113.9 439.3L114.1 434.6L114.2 436.8L114.6 418.7L115.0 438.2L115.1 442.5L115.3 433.4L115.6 410.1L115.7 421.7L115.9 437.3L116.1 434.6L116.2 431.4L116.4 440.9L116.6 444.9L116.8 436.2L117.2 430.5L117.5 420.6L117.9 426.3L118.3 432.4L118.5 425.7L118.6 427.9L118.9 435.2L119.0 434.2L119.1 432.3L119.3 434.8L119.6 438.8L119.7 435.8L120.0 429.3L120.1 429.4L120.3 425.0L120.4 426.3L120.7 432.1L120.8 430.8L120.9 429.2L121.2 432.1L121.4 434.3L121.5 433.6L121.9 431.7L122.3 428.2L122.6 427.6L123.0 435.7L123.4 430.8L123.6 427.2L123.7 428.0L124.1 439.2L124.2 439.2L124.4 430.1L124.6 424.9L124.8 430.8L125.1 436.5L125.2 432.8L125.3 429.4L125.5 434.3L125.7 436.4L125.9 434.5L126.0 432.4L126.3 435.0L126.4 435.9L126.6 430.9L126.9 424.4L127.0 424.5L127.4 426.3L127.7 435.9L128.0 429.3L128.1 432.0L128.5 438.1L128.8 429.8L128.9 429.1L129.2 431.2L129.4 437.8L129.5 436.6L129.8 434.1L129.9 436.1L130.0 437.7L130.3 432.4L130.5 417.9L130.6 425.3L130.8 429.0L130.9 428.5L131.0 432.0L131.2 434.6L131.4 433.0L131.7 427.9L132.0 424.7L132.1 425.3L132.5 434.1L132.6 435.8L132.8 430.4L132.9 429.9L133.2 433.8L133.3 433.8L133.5 437.1L133.9 433.0L134.3 424.5L134.6 435.0L134.8 438.8L135.0 434.8L135.1 432.7L135.4 437.3L135.5 438.7L135.7 430.1L135.9 427.3L136.1 433.7L136.3 440.0L136.5 435.5L136.7 427.6L136.8 428.4L137.1 430.6L137.2 430.6L137.6 426.6L137.7 425.0L137.9 427.8L138.3 434.3L138.6 431.1L139.0 439.3L139.4 429.1L139.5 427.3L139.7 432.1L139.9 433.2L140.1 431.0L140.2 430.5L140.3 431.4L140.5 431.0L140.8 426.0L141.2 430.6L141.6 438.0L141.7 438.8L141.9 438.5L142.2 439.4L142.3 437.0L142.7 431.0L143.0 424.6L143.1 423.7L143.4 428.1L143.6 430.6L143.7 429.0L143.9 428.0L144.1 430.5L144.5 426.3L144.8 435.8L145.0 437.8L145.2 433.7L145.3 432.8L145.6 435.6L145.7 437.0L145.9 436.1L146.2 434.3L146.3 435.1L146.7 426.7L146.8 423.5L146.9 424.1L147.0 424.1L147.1 422.1L147.4 429.0L147.6 437.8L147.8 437.4L148.1 424.2L148.2 424.1L148.5 432.8L148.7 438.7L148.8 437.7L149.2 433.3L149.5 429.7L149.6 430.1L149.7 431.9L149.9 430.8L150.3 437.3L150.4 437.5L150.7 433.7L150.9 430.3L151.0 432.5L151.2 432.9L151.4 428.8L151.6 430.5L151.8 429.9L152.0 428.1L152.1 429.4L152.2 430.4L152.5 426.5L152.6 424.8L152.9 429.2L153.2 438.6L153.6 432.8L153.7 430.8L153.9 432.1L154.1 432.0L154.3 435.6L154.4 436.0L154.5 433.7L154.7 434.1L154.8 435.6L155.0 434.1L155.4 429.3L155.8 434.4L156.0 432.0L156.1 432.7L156.4 430.7L156.5 431.0L156.7 434.4L156.9 432.9L157.2 429.0L157.3 428.2L157.6 432.9L157.7 434.0L157.9 433.4L158.1 433.5L158.3 429.6L158.6 425.2L158.7 425.3L159.0 431.8L159.4 434.1L159.6 438.3L159.8 437.6L160.1 428.2L160.5 434.9L160.6 435.6L160.9 432.7L161.2 427.8L161.5 425.1L161.6 425.3L162.0 427.3L162.3 430.7L162.7 437.7L163.0 433.7L163.4 435.1L163.7 434.6L163.8 435.7L164.0 437.6L164.1 435.2L164.5 429.9L164.7 429.0L164.9 429.8L165.0 430.4L165.1 430.3L165.2 430.5L165.6 432.3L165.7 432.9L165.8 432.6L166.0 432.7L166.2 434.2L166.3 432.5L166.7 428.3L167.1 425.7L167.4 438.3L167.8 429.5L167.9 428.8L168.1 434.7L168.3 435.7L168.5 432.2L168.9 430.8L169.0 430.8L169.2 432.7L169.4 431.6L169.5 440.8L169.6 431.3L169.8 428.3L170.0 428.3L170.3 430.8L170.7 436.3L170.9 435.4L171.1 436.4L171.3 437.8L171.4 436.5L171.8 426.6L171.9 426.0L172.2 429.3L172.4 434.4L172.5 434.2L172.9 431.5L173.2 427.4L173.4 427.5L173.6 427.0L174.0 433.4L174.1 434.4L174.3 428.7L174.5 426.3L174.7 432.7L174.9 438.3L175.1 437.2L175.4 432.6L175.7 430.5L175.8 431.5L175.9 432.2L176.2 431.5L176.5 436.5L176.6 437.9L176.9 435.3L177.1 430.9L177.2 431.5L177.6 435.2L178.0 429.0L178.3 425.5L178.5 425.4L178.7 428.7L179.1 432.4L179.4 434.4L179.6 435.9L179.8 435.3L180.2 431.6L180.3 431.5L180.5 434.1L180.6 434.3L180.9 430.7L181.0 428.9L181.3 434.2L181.4 438.4L181.6 432.8L181.9 425.8L182.0 426.9L182.2 431.1L182.3 430.5L182.6 428.8L182.7 430.5L183.0 435.0L183.1 433.8L183.3 436.8L183.4 435.7L183.8 429.5L184.0 425.4L184.2 426.2L184.5 435.2L184.9 432.4L185.1 430.3L185.3 430.8L185.4 431.6L185.6 427.9L185.7 427.4L186.0 432.3L186.2 435.4L186.4 435.3L186.6 437.3L186.7 435.5L186.8 434.2L187.1 437.6L187.4 427.4L187.6 424.0L187.8 428.6L188.1 435.0L188.2 432.9L188.5 422.0L188.9 438.3L189.3 436.3L189.6 428.6L189.8 428.7L190.0 421.0L190.1 420.9L190.4 439.6L190.5 443.8L190.7 432.1L190.8 427.5L191.1 428.4L191.2 427.2L191.5 430.5L191.7 434.4L191.8 433.4L191.9 433.0L192.2 436.0L192.3 437.4L192.4 437.3L192.5 438.1L192.7 439.8L192.9 431.5L193.3 424.6L193.4 422.8L193.6 432.1L193.9 436.7L194.0 433.1L194.2 422.3L194.4 422.9L194.7 439.7L194.9 436.6L195.1 438.8L195.5 426.5L195.6 423.2L195.8 427.1L196.2 433.5L196.3 438.1L196.6 427.7L196.7 423.5L196.9 433.6L197.0 435.8L197.3 434.3L197.5 429.6L197.6 429.9L197.9 429.6L198.0 432.2L198.1 434.7L198.4 426.4L198.6 421.1L198.7 426.4L199.0 444.1L199.1 440.6L199.2 435.8L199.5 441.5L199.8 439.6L199.9 439.8L200.2 419.8L200.6 446.0L200.9 426.0L201.0 421.2L201.3 428.4L201.4 429.2L201.5 426.0L201.6 426.5L201.8 428.8L201.9 428.8L202.0 430.3L202.3 435.8L202.4 433.6L202.7 420.6L203.1 436.0L203.2 440.0L203.5 436.6L203.8 430.6L204.1 423.8L204.2 425.9L204.6 436.6L204.9 434.1L205.0 434.1L205.3 432.2L205.5 431.7L205.7 431.8L205.9 431.0L206.0 431.3L206.3 429.2L206.4 430.2L206.6 432.8L206.7 432.1L206.9 431.3L207.1 433.8L207.5 433.2L207.7 428.2L207.8 429.9L208.1 434.2L208.2 434.0L208.4 436.8L208.6 435.2L208.9 427.4L209.3 432.1L209.7 426.9L210.0 434.6L210.1 435.3L210.4 432.4L210.8 430.1L210.9 428.8L211.1 431.5L211.4 436.0L211.5 433.9L211.6 432.5L211.8 436.3L212.2 430.1L212.3 429.5L212.6 433.5L212.8 435.9L212.9 433.7L213.2 429.2L213.3 430.1L213.4 430.7L213.7 429.5L214.0 427.6L214.4 433.9L214.5 435.6L214.8 433.8L215.0 434.2L215.1 433.3L215.4 431.3L215.5 432.0L215.6 432.1L215.9 429.7L216.0 428.2L216.2 432.7L216.5 435.9L216.6 435.5L216.9 432.1L217.3 434.7L217.4 435.9L217.7 432.8L218.0 427.5L218.2 427.4L218.4 429.5L218.8 431.4L218.9 431.7L219.1 430.9L219.5 433.5L219.9 431.0L220.2 435.0L220.6 433.1L220.9 431.1L221.3 429.0L221.4 428.9L221.7 433.8L221.8 434.7L222.0 432.3L222.3 431.2L222.4 431.6L222.8 434.6L222.9 435.2L223.1 434.0L223.5 431.1L223.7 429.5L223.9 430.7L224.1 432.5L224.2 430.9L224.3 429.3L224.6 430.5L224.7 431.5L225.0 429.7L225.3 429.2L225.7 431.5L225.9 432.2L226.0 431.8L226.2 431.8L226.4 431.0L226.7 431.5L226.8 431.5L227.1 429.3L227.5 432.5L227.9 435.2L228.0 435.2L228.2 433.2L228.4 432.8L228.6 433.9L229.0 431.7L229.3 428.7L229.7 430.6L230.1 433.1L230.3 431.7L230.4 432.1L230.7 433.7L230.8 432.8L230.9 431.8L231.1 433.3L231.3 433.7L231.5 432.3L231.9 431.3L232.1 432.1L232.2 431.6L232.6 430.1L233.0 429.4L233.1 429.2L233.3 430.5L233.7 433.3L234.1 434.1L234.4 432.7L234.5 432.3L234.7 432.4L234.8 432.1L235.2 430.8L235.3 430.4L235.5 430.8L235.8 430.1L235.9 431.1L236.0 431.8L236.1 431.6L236.2 431.9L236.6 434.0L237.0 431.4L237.2 430.0L237.3 430.6L237.6 432.1L237.7 430.6L237.8 429.5L238.1 431.3L238.3 432.2L238.4 432.0L238.8 434.0L238.9 434.1L239.2 432.5L239.5 430.2L239.8 431.0L239.9 430.4L240.0 430.0L240.3 431.2L240.5 433.6L240.6 433.2L241.0 430.8L241.1 430.4L241.3 432.2L241.7 431.1L241.8 431.0L242.1 432.3L242.4 430.9L242.8 432.3L243.2 432.9L243.3 433.1L243.5 430.8L243.6 430.8L243.9 433.3L244.3 430.9L244.6 432.2L245.0 430.5L245.1 430.3L245.3 430.8L245.6 430.2L245.7 430.3L246.1 432.8L246.4 433.5L246.6 433.9L246.8 433.2L247.2 432.3L247.3 432.6L247.5 431.3L247.9 430.1L248.1 431.2L248.3 431.2L248.5 430.4L248.6 430.9L248.9 432.4L249.0 432.3L249.2 430.8L249.4 431.4L249.7 433.6L250.1 432.3L250.4 431.6L250.8 431.0L251.1 431.4L251.2 431.1L251.4 430.0L251.5 430.3L251.9 432.4L252.3 433.2L252.6 430.6L252.8 430.0L252.9 430.2L253.0 430.2L253.4 432.1L253.7 433.5L254.1 431.9L254.3 431.7L254.5 431.7L254.8 432.3L255.1 432.7L255.2 432.7L255.5 430.5L255.9 432.6L256.0 432.9L256.3 431.3L256.4 430.3L256.6 431.6L256.8 431.7L257.0 429.9L257.1 429.9L257.4 431.2L257.7 433.5L258.1 432.2L258.5 431.7L258.6 431.8L258.7 431.8L258.8 432.0L259.2 432.5L259.6 432.0L259.9 430.3L260.0 430.0L260.3 430.9L260.5 431.6L260.6 431.5L260.9 432.2L261.0 432.1L261.1 431.7L261.4 432.1L261.7 433.5L262.1 432.8" fill="none" stroke="#000" stroke-width="0.44" stroke-linejoin="miter" stroke-miterlimit="3"/>
<g stroke="#222" stroke-width="1.15" fill="none">
<path d="M43.60 375.10V488.00H262.60M43.60 375.60h4.7M43.60 394.33h4.7M43.60 413.07h4.7M43.60 431.80h4.7M43.60 450.53h4.7M43.60 469.27h4.7M80.02 488.00v-4.5M116.43 488.00v-4.5M152.85 488.00v-4.5M189.27 488.00v-4.5M225.68 488.00v-4.5M262.10 488.00v-4.5"/>
</g>
<g font-size="9.9">
<text x="36.4" y="379.1" text-anchor="end">1.5</text>
<text x="36.4" y="397.8" text-anchor="end">1.0</text>
<text x="36.4" y="416.6" text-anchor="end">0.5</text>
<text x="36.4" y="435.3" text-anchor="end">0.0</text>
<text x="36.4" y="454.0" text-anchor="end">-0.5</text>
<text x="36.4" y="472.8" text-anchor="end">-1.0</text>
<text x="36.4" y="491.5" text-anchor="end">-1.5</text>
<text x="42.7" y="501.6" text-anchor="middle">0</text>
<text x="79.1" y="501.6" text-anchor="middle">6</text>
<text x="115.5" y="501.6" text-anchor="middle">12</text>
<text x="152.0" y="501.6" text-anchor="middle">18</text>
<text x="188.4" y="501.6" text-anchor="middle">24</text>
<text x="224.8" y="501.6" text-anchor="middle">30</text>
<text x="261.2" y="501.6" text-anchor="middle">36</text>
</g>
<text font-size="10.0" transform="translate(126.90 510.90) scale(1.0499 1)">Time (s)</text>
<text font-size="10.1" transform="translate(13.60 475.80) rotate(-90) scale(1.0678 1)">Acceleration (m/s<tspan font-size="6.06" dy="-3.3">2</tspan><tspan dy="3.3">)</tspan></text>
<path d="M324.4 98.6L324.7 91.4L325.0 73.5L325.3 68.7L325.6 81.9L325.9 80.3L326.2 95.7L326.5 112.8L326.8 97.0L327.1 87.7L327.4 94.8L327.7 95.1L328.0 82.9L328.3 68.7L328.6 83.0L328.8 85.4L329.1 99.5L329.4 85.1L329.7 70.3L330.0 76.7L330.3 68.6L330.6 53.8L330.9 75.0L331.2 99.3L331.5 87.0L331.8 96.7L332.1 90.2L332.4 99.8L332.7 100.0L333.0 100.1L333.3 95.6L333.6 89.0L333.9 69.5L334.2 53.1L334.5 57.8L334.8 61.7L335.1 61.1L335.4 68.8L335.7 61.1L336.0 61.1L336.3 56.5L336.6 51.0L336.9 64.2L337.1 81.0L337.4 83.5L337.7 81.5L338.0 105.5L338.3 97.0L338.6 69.2L338.9 88.6L339.2 75.1L339.5 86.2L339.8 92.7L340.1 87.8L340.4 86.4L340.7 90.0L341.0 80.1L341.3 87.2L341.6 85.2L341.9 98.0L342.2 91.1L342.5 101.6L342.8 82.4L343.1 91.4L343.4 90.6L343.7 104.9L344.0 116.8L344.3 109.3L344.6 101.6L344.9 104.0L345.2 108.2L345.5 100.0L345.7 85.8L346.0 98.3L346.3 95.3L346.6 98.1L346.9 101.4L347.2 110.9L347.5 108.4L347.8 110.5L348.1 106.6L348.4 108.2L348.7 105.7L349.0 113.2L349.3 113.2L349.6 99.4L349.9 100.1L350.2 116.5L350.5 92.6L350.8 62.3L351.1 83.4L351.4 117.4L351.7 112.9L352.0 101.4L352.3 97.3L352.6 108.6L352.9 88.6L353.2 83.6L353.5 92.3L353.8 101.3L354.0 119.4L354.3 116.2L354.6 119.9L354.9 109.7L355.2 107.4L355.5 110.5L355.8 117.9L356.1 109.5L356.4 104.1L356.7 120.8L357.0 113.4L357.3 112.0L357.6 121.0L357.9 120.9L358.2 103.0L358.5 92.2L358.8 100.5L359.1 116.0L359.4 120.6L359.7 118.1L360.0 120.5L360.3 117.9L360.6 110.5L360.9 100.5L361.2 109.4L361.5 94.3L361.8 119.1L362.1 109.5L362.4 95.5L362.6 82.9L362.9 102.4L363.2 113.9L363.5 112.0L363.8 111.4L364.1 116.0L364.4 120.5L364.7 120.8L365.0 119.8L365.3 109.4L365.6 117.7L365.9 121.4L366.2 120.0L366.5 118.4L366.8 113.7L367.1 122.0L367.4 118.4L367.7 117.9L368.0 121.8L368.3 119.1L368.6 116.7L368.9 108.2L369.2 103.0L369.5 109.9L369.8 102.9L370.1 100.2L370.4 102.2L370.7 114.0L370.9 100.0L371.2 107.3L371.5 106.5L371.8 105.7L372.1 112.1L372.4 116.0L372.7 105.8L373.0 97.1L373.3 102.4L373.6 106.5L373.9 99.1L374.2 100.6L374.5 97.8L374.8 99.3L375.1 109.6L375.4 114.6L375.7 115.1L376.0 113.9L376.3 106.9L376.6 111.0L376.9 117.0L377.2 119.2L377.5 115.3L377.8 112.6L378.1 119.8L378.4 113.5L378.7 117.5L379.0 118.5L379.3 119.5L379.5 115.9L379.8 107.8L380.1 112.6L380.4 119.7L380.7 119.6L381.0 119.3L381.3 119.6L381.6 119.6L381.9 119.6L382.2 113.8L382.5 112.0L382.8 116.5L383.1 108.7L383.4 113.2L383.7 115.5L384.0 114.9L384.3 108.7L384.6 116.8L384.9 110.5L385.2 110.3L385.5 108.9L385.8 113.3L386.1 108.7L386.4 112.7L386.7 108.7L387.0 113.0L387.3 108.9L387.6 110.6L387.8 109.3L388.1 108.7L388.4 111.2L388.7 112.7L389.0 114.6L389.3 115.8L389.6 118.9L389.9 116.1L390.2 118.8L390.5 118.8L390.8 118.1L391.1 118.7L391.4 117.1L391.7 113.5L392.0 115.6L392.3 114.0L392.6 105.7L392.9 106.6L393.2 111.5L393.5 107.9L393.8 108.2L394.1 116.6L394.4 111.9L394.7 118.7L395.0 115.1L395.3 115.8L395.6 118.1L395.9 118.8L396.1 118.8L396.4 118.9L396.7 117.0L397.0 118.0L397.3 116.0L397.6 116.7L397.9 118.2L398.2 113.9L398.5 112.0L398.8 115.0L399.1 115.4L399.4 117.4L399.7 112.4L400.0 117.0L400.3 113.8L400.6 116.3L400.9 117.3L401.2 117.0L401.5 113.5L401.8 113.3L402.1 114.9L402.4 116.1L402.7 112.4L403.0 113.6L403.3 115.3L403.6 115.3L403.9 118.5L404.2 116.0L404.5 118.0L404.7 117.7L405.0 119.0L405.3 116.0L405.6 114.9L405.9 118.3L406.2 114.7L406.5 114.3L406.8 112.4L407.1 112.4L407.4 114.9L407.7 112.4L408.0 112.4L408.3 113.5L408.6 114.7L408.9 112.4L409.2 112.9L409.5 116.4L409.8 115.6L410.1 117.3L410.4 117.9L410.7 117.9L411.0 114.4L411.3 114.5L411.6 113.8L411.9 113.6L412.2 113.6L412.5 111.8L412.8 116.6L413.0 111.8L413.3 116.0L413.6 114.6L413.9 114.6L414.2 115.6L414.5 115.7L414.8 118.6L415.1 114.4L415.4 115.9L415.7 117.2L416.0 116.8L416.3 118.5L416.6 118.6L416.9 118.7L417.2 117.4L417.5 118.9L417.8 113.8L418.1 115.2L418.4 117.3L418.7 116.3L419.0 118.3L419.3 115.5L419.6 114.5L419.9 113.1L420.2 117.7L420.5 113.4L420.8 115.1L421.1 115.8L421.4 115.9L421.6 115.8L421.9 114.3L422.2 115.6L422.5 117.4L422.8 120.3L423.1 119.4L423.4 117.5L423.7 118.2L424.0 120.1L424.3 116.4L424.6 116.0L424.9 119.1L425.2 120.4L425.5 119.7L425.8 120.7L426.1 120.4L426.4 118.1L426.7 118.7L427.0 117.2L427.3 117.1L427.6 117.9L427.9 118.5L428.2 118.5L428.5 118.5L428.8 118.0L429.1 120.1L429.4 120.0L429.7 121.7L429.9 121.8L430.2 121.8L430.5 120.8L430.8 121.9L431.1 120.4L431.4 122.0L431.7 121.1L432.0 121.2L432.3 119.9L432.6 122.1L432.9 122.1L433.2 121.7L433.5 120.8L433.8 120.6L434.1 122.0L434.4 121.4L434.7 121.5L435.0 119.3L435.3 119.8L435.6 119.6L435.9 122.0L436.2 120.1L436.5 120.5L436.8 119.6L437.1 121.8L437.4 119.4L437.7 119.8L438.0 120.0L438.3 121.8L438.5 119.5L438.8 121.4L439.1 121.7L439.4 122.2L439.7 122.6L440.0 122.3L440.3 122.3L440.6 121.5L440.9 122.0L441.2 122.7L441.5 122.0L441.8 120.8L442.1 118.6L442.4 112.0L442.7 117.2L443.0 119.7L443.3 120.6L443.6 118.1L443.9 114.2L444.2 117.9L444.5 121.5L444.8 120.2L445.1 122.7L445.4 121.4L445.7 121.0L446.0 122.2L446.3 122.1L446.6 122.1L446.8 121.6L447.1 122.0L447.4 121.7L447.7 121.2L448.0 122.7L448.3 122.2L448.6 121.9L448.9 122.7L449.2 122.4L449.5 122.7L449.8 122.7L450.1 122.7L450.4 121.1L450.7 122.4L451.0 122.2L451.3 120.8L451.6 121.2L451.9 121.9L452.2 119.7L452.5 119.7L452.8 120.3L453.1 121.3L453.4 120.5L453.7 120.7L454.0 119.7L454.3 120.7L454.6 119.7L454.9 119.7L455.2 120.4L455.4 120.6L455.7 119.8L456.0 120.1L456.3 121.9L456.6 119.7L456.9 122.6L457.2 121.7L457.5 121.1L457.8 122.7L458.1 121.6L458.4 120.7L458.7 122.7L459.0 122.7L459.3 121.1L459.6 122.7L459.9 122.7L460.2 122.7L460.5 122.7L460.8 122.6L461.1 120.2L461.4 122.4L461.7 122.7L462.0 122.6L462.3 121.1L462.6 119.3L462.9 121.2L463.2 120.0L463.5 119.1L463.7 119.7L464.0 119.6L464.3 119.7L464.6 119.1L464.9 119.7L465.2 118.1L465.5 119.6L465.8 117.7L466.1 117.2L466.4 117.5L466.7 117.4L467.0 116.4L467.3 115.9L467.6 116.5L467.9 117.6L468.2 117.3L468.5 117.8L468.8 118.0L469.1 117.9L469.4 118.4L469.7 118.5L470.0 117.9L470.3 119.0L470.6 119.2L470.9 119.4L471.2 118.8L471.5 119.8L471.8 120.0L472.1 119.6L472.3 120.4L472.6 120.5L472.9 120.5L473.2 121.0L473.5 120.7L473.8 120.7L474.1 121.5L474.4 121.3L474.7 121.6L475.0 122.1L475.3 122.3L475.6 121.1L475.9 122.7L476.2 121.7L476.5 120.4L476.8 122.7L477.1 120.9L477.4 121.9L477.7 120.5L478.0 120.1L478.3 121.7L478.6 121.2L478.9 120.6L479.2 121.9L479.5 121.2L479.8 121.9L480.1 120.2L480.4 121.0L480.6 119.2L480.9 119.6L481.2 122.4L481.5 120.8L481.8 120.7L482.1 120.6L482.4 120.2L482.7 120.8L483.0 119.4L483.3 119.8L483.6 120.0L483.9 121.0L484.2 118.8L484.5 121.7L484.8 118.6L485.1 119.0L485.4 120.9L485.7 119.4L486.0 118.3L486.3 120.4L486.6 121.5L486.9 121.0L487.2 120.9L487.5 119.9L487.8 122.6L488.1 121.4L488.4 122.3L488.7 121.2L489.0 122.1L489.2 122.7L489.5 121.7L489.8 121.1L490.1 122.1L490.4 122.7L490.7 121.5L491.0 120.1L491.3 119.4L491.6 120.7L491.9 119.3L492.2 120.9L492.5 121.8L492.8 120.1L493.1 121.3L493.4 119.6L493.7 120.0L494.0 121.5L494.3 121.9L494.6 121.3L494.9 120.7L495.2 121.7L495.5 122.0L495.8 120.8L496.1 121.0L496.4 121.8L496.7 121.5L497.0 122.7L497.3 121.1L497.5 121.6L497.8 121.3L498.1 122.7L498.4 122.7L498.7 122.7L499.0 122.7L499.3 122.7L499.6 122.7L499.9 121.0L500.2 122.4L500.5 121.7L500.8 121.6L501.1 122.7L501.4 122.7L501.7 122.7L502.0 122.4L502.3 122.4L502.6 122.7L502.9 121.9L503.2 122.7L503.5 121.6L503.8 122.7L504.1 122.7L504.4 121.1L504.7 120.9L505.0 118.5L505.3 121.0L505.6 120.7L505.9 119.1L506.1 122.7L506.4 122.7L506.7 122.7L507.0 121.5L507.3 122.2L507.6 121.2L507.9 122.7L508.2 121.9L508.5 120.6L508.8 120.3L509.1 120.1L509.4 118.9L509.7 120.4L510.0 120.1L510.3 120.2L510.6 119.2L510.9 121.2L511.2 121.7L511.5 122.1L511.8 122.7L512.1 121.9L512.4 122.5L512.7 122.7L513.0 122.6L513.3 122.1L513.6 120.9L513.9 122.6L514.2 121.3L514.4 122.5L514.7 121.5L515.0 122.7L515.3 122.7L515.6 122.7L515.9 122.7L516.2 122.3L516.5 121.9L516.8 122.7L517.1 122.1L517.4 122.7L517.7 120.7L518.0 122.5L518.3 122.7L518.6 120.8L518.9 122.7L519.2 120.7L519.5 121.6L519.8 122.0L520.1 121.8L520.4 121.4L520.7 121.2L521.0 122.2L521.3 121.3L521.6 120.9L521.9 121.3L522.2 119.7L522.5 121.6L522.7 120.5L523.0 119.6L523.3 120.0L523.6 119.5L523.9 119.8L524.2 122.0L524.5 120.0L524.8 122.0L525.1 120.4L525.4 121.2L525.7 120.0L526.0 122.7L526.3 120.0L526.6 120.8L526.9 119.5L527.2 119.8L527.5 120.4L527.8 122.2L528.1 122.1L528.4 122.7L528.7 121.6L529.0 120.7L529.3 119.6L529.6 119.2L529.9 120.4L530.2 119.3L530.5 119.2L530.8 119.8L531.1 121.5L531.3 120.6L531.6 120.9L531.9 121.5L532.2 120.0L532.5 120.5L532.8 120.2L533.1 119.8L533.4 119.9L533.7 119.2L534.0 119.1L534.3 119.2L534.6 119.1L534.9 119.1L535.2 119.7L535.5 119.0L535.8 119.0L536.1 119.9L536.4 119.3L536.7 121.0L537.0 121.5L537.3 120.3L537.6 122.7" fill="none" stroke="#000" stroke-width="0.5" stroke-linejoin="miter" stroke-miterlimit="3"/>
<g stroke="#222" stroke-width="1.0" fill="none">
<path d="M324.40 9.80V123.40H538.00"/>
<path d="M377.73 123.40v-2.8M431.05 123.40v-2.8M484.38 123.40v-2.8M537.70 123.40v-2.8" stroke-width="0.7"/>
</g>
<g font-size="9.5">
<text x="319.2" y="126.3" text-anchor="end">0.0</text>
<text x="319.2" y="97.9" text-anchor="end">0.4</text>
<text x="319.2" y="69.5" text-anchor="end">0.8</text>
<text x="319.2" y="41.1" text-anchor="end">1.2</text>
<text x="319.2" y="12.7" text-anchor="end">1.6</text>
</g><g font-size="9.4">
<text x="323.7" y="135.9" text-anchor="middle">0</text>
<text x="377.0" y="135.9" text-anchor="middle">5</text>
<text x="430.4" y="135.9" text-anchor="middle">10</text>
<text x="483.7" y="135.9" text-anchor="middle">15</text>
<text x="537.0" y="135.9" text-anchor="middle">20</text>
</g>
<text font-size="10.6" transform="translate(392.70 146.50) scale(1.1106 1)">Frequency (Hz)</text>
<text font-size="10.8" transform="translate(299.00 108.50) rotate(-90) scale(1.0386 1)">Fourier Amplitude</text>
<path d="M323.8 301.4L324.1 296.9L324.4 294.9L324.7 292.7L325.0 290.9L325.3 289.6L325.6 287.6L325.9 289.6L326.2 291.6L326.5 287.9L326.8 288.4L327.2 288.4L327.5 288.5L327.8 281.2L328.1 282.8L328.4 279.7L328.7 280.1L329.0 279.6L329.3 282.4L329.6 278.4L329.9 277.9L330.2 280.4L330.5 275.2L330.8 283.0L331.1 272.2L331.4 273.7L331.7 274.5L332.0 275.2L332.3 279.0L332.6 278.1L332.9 276.4L333.2 279.4L333.6 275.7L333.9 274.7L334.2 277.6L334.5 272.6L334.8 269.6L335.1 269.9L335.4 275.1L335.7 270.6L336.0 273.9L336.3 273.3L336.6 272.6L336.9 262.8L337.2 265.7L337.5 251.7L337.8 253.0L338.1 266.3L338.4 261.5L338.7 258.1L339.0 261.7L339.3 253.7L339.6 257.3L339.9 252.7L340.3 253.6L340.6 252.9L340.9 257.0L341.2 258.7L341.5 265.4L341.8 284.8L342.1 269.3L342.4 257.5L342.7 266.6L343.0 269.0L343.3 266.3L343.6 263.3L343.9 266.7L344.2 258.7L344.5 251.7L344.8 253.2L345.1 256.7L345.4 253.4L345.7 255.0L346.0 271.9L346.3 266.2L346.7 264.2L347.0 259.4L347.3 273.0L347.6 273.8L347.9 273.8L348.2 271.9L348.5 273.8L348.8 265.6L349.1 268.0L349.4 273.9L349.7 284.8L350.0 274.2L350.3 258.6L350.6 253.5L350.9 272.6L351.2 283.9L351.5 272.2L351.8 267.0L352.1 260.6L352.4 262.9L352.7 257.4L353.1 258.6L353.4 262.5L353.7 261.4L354.0 262.8L354.3 261.6L354.6 261.8L354.9 261.6L355.2 262.0L355.5 257.5L355.8 262.1L356.1 261.3L356.4 264.2L356.7 260.4L357.0 258.5L357.3 262.5L357.6 260.0L357.9 258.0L358.2 258.5L358.5 258.0L358.8 257.6L359.1 255.4L359.4 258.5L359.8 257.1L360.1 258.4L360.4 258.9L360.7 261.9L361.0 261.4L361.3 259.0L361.6 254.0L361.9 257.4L362.2 256.8L362.5 255.3L362.8 249.6L363.1 239.7L363.4 250.1L363.7 253.6L364.0 259.9L364.3 262.3L364.6 258.8L364.9 262.1L365.2 257.1L365.5 259.8L365.8 255.8L366.2 251.4L366.5 253.4L366.8 253.2L367.1 251.9L367.4 250.7L367.7 255.6L368.0 251.7L368.3 254.5L368.6 259.0L368.9 257.9L369.2 260.5L369.5 259.7L369.8 257.7L370.1 252.5L370.4 259.7L370.7 256.6L371.0 256.3L371.3 258.4L371.6 259.6L371.9 259.5L372.2 256.3L372.6 255.1L372.9 252.6L373.2 242.5L373.5 249.9L373.8 252.7L374.1 255.3L374.4 256.8L374.7 255.5L375.0 258.0L375.3 259.9L375.6 257.2L375.9 256.4L376.2 257.0L376.5 254.9L376.8 262.5L377.1 266.2L377.4 264.7L377.7 256.7L378.0 267.4L378.3 263.7L378.6 265.3L378.9 268.4L379.3 265.3L379.6 268.8L379.9 264.7L380.2 269.7L380.5 264.8L380.8 268.8L381.1 266.3L381.4 261.3L381.7 268.6L382.0 274.2L382.3 285.4L382.6 278.6L382.9 258.1L383.2 260.0L383.5 246.1L383.8 263.8L384.1 273.8L384.4 269.2L384.7 273.9L385.0 267.2L385.3 268.7L385.7 271.3L386.0 266.1L386.3 267.3L386.6 274.2L386.9 262.7L387.2 258.9L387.5 249.8L387.8 244.3L388.1 250.2L388.4 255.2L388.7 255.2L389.0 259.5L389.3 263.5L389.6 271.8L389.9 260.6L390.2 271.2L390.5 274.9L390.8 274.9L391.1 273.7L391.4 264.7L391.7 264.2L392.1 269.7L392.4 261.6L392.7 252.5L393.0 248.0L393.3 257.7L393.6 267.0L393.9 258.1L394.2 261.7L394.5 272.7L394.8 275.6L395.1 275.6L395.4 267.9L395.7 274.9L396.0 266.0L396.3 266.0L396.6 263.9L396.9 264.5L397.2 262.9L397.5 263.3L397.8 268.2L398.1 273.9L398.4 274.5L398.8 266.8L399.1 274.3L399.4 274.2L399.7 265.3L400.0 269.2L400.3 266.0L400.6 255.4L400.9 268.2L401.2 280.1L401.5 287.6L401.8 275.3L402.1 268.8L402.4 269.2L402.7 269.5L403.0 265.8L403.3 272.8L403.6 264.7L403.9 265.3L404.2 268.8L404.5 275.5L404.8 269.3L405.2 267.3L405.5 272.0L405.8 269.5L406.1 262.6L406.4 268.8L406.7 279.4L407.0 290.9L407.3 282.7L407.6 272.7L407.9 276.6L408.2 273.4L408.5 273.7L408.8 268.6L409.1 271.0L409.4 275.4L409.7 272.5L410.0 264.2L410.3 264.4L410.6 264.5L410.9 264.6L411.2 274.6L411.6 267.8L411.9 268.2L412.2 270.2L412.5 265.3L412.8 268.6L413.1 265.6L413.4 270.2L413.7 273.4L414.0 271.3L414.3 276.5L414.6 266.2L414.9 276.8L415.2 274.5L415.5 274.1L415.8 266.8L416.1 272.8L416.4 272.6L416.7 277.2L417.0 273.0L417.3 278.6L417.6 276.5L417.9 270.5L418.3 271.4L418.6 267.9L418.9 268.5L419.2 268.2L419.5 268.3L419.8 269.8L420.1 270.3L420.4 277.1L420.7 272.2L421.0 272.6L421.3 269.1L421.6 273.4L421.9 277.3L422.2 278.3L422.5 275.4L422.8 279.0L423.1 274.9L423.4 269.0L423.7 276.6L424.0 279.6L424.3 284.4L424.7 287.6L425.0 282.5L425.3 279.2L425.6 282.5L425.9 281.9L426.2 279.8L426.5 279.7L426.8 281.8L427.1 279.4L427.4 278.3L427.7 277.3L428.0 278.2L428.3 278.2L428.6 278.0L428.9 278.1L429.2 280.1L429.5 278.7L429.8 279.9L430.1 279.4L430.4 282.4L430.7 280.4L431.1 280.3L431.4 283.9L431.7 286.6L432.0 281.6L432.3 281.8L432.6 281.9L432.9 282.2L433.2 283.9L433.5 286.8L433.8 286.7L434.1 285.5L434.4 289.1L434.7 288.7L435.0 289.0L435.3 287.8L435.6 288.9L435.9 287.9L436.2 285.6L436.5 285.9L436.8 287.6L437.1 287.8L437.4 288.5L437.8 287.8L438.1 289.6L438.4 292.6L438.7 289.5L439.0 291.9L439.3 291.1L439.6 291.5L439.9 291.5L440.2 289.2L440.5 290.8L440.8 289.6L441.1 289.8L441.4 291.7L441.7 290.8L442.0 290.8L442.3 293.7L442.6 291.1L442.9 291.2L443.2 292.9L443.5 295.2L443.8 295.6L444.2 295.8L444.5 295.2L444.8 293.6L445.1 294.6L445.4 293.6L445.7 294.4L446.0 296.5L446.3 295.3L446.6 294.4L446.9 295.8L447.2 295.9L447.5 296.6L447.8 296.8L448.1 297.4L448.4 296.3L448.7 296.9L449.0 294.8L449.3 297.9L449.6 296.8L449.9 296.4L450.2 296.0L450.6 294.1L450.9 294.2L451.2 295.0L451.5 295.6L451.8 295.5L452.1 295.6L452.4 296.6L452.7 295.5L453.0 294.7L453.3 296.5L453.6 296.0L453.9 297.9L454.2 298.2L454.5 297.0L454.8 295.9L455.1 296.1L455.4 294.1L455.7 295.0L456.0 295.5L456.3 294.1L456.6 296.1L456.9 294.7L457.3 294.6L457.6 294.6L457.9 294.5L458.2 294.2L458.5 295.9L458.8 295.1L459.1 295.4L459.4 294.6L459.7 294.3L460.0 294.3L460.3 294.3L460.6 295.3L460.9 295.7L461.2 294.4L461.5 296.2L461.8 295.3L462.1 294.4L462.4 295.9L462.7 298.3L463.0 297.9L463.3 298.4L463.7 297.2L464.0 298.5L464.3 298.5L464.6 296.9L464.9 298.5L465.2 298.0L465.5 294.9L465.8 297.7L466.1 297.8L466.4 297.3L466.7 296.1L467.0 296.0L467.3 296.0L467.6 294.7L467.9 296.1L468.2 297.5L468.5 297.5L468.8 296.7L469.1 296.3L469.4 298.3L469.7 296.1L470.1 295.0L470.4 294.1L470.7 295.0L471.0 294.9L471.3 293.6L471.6 296.6L471.9 293.8L472.2 293.3L472.5 296.9L472.8 293.5L473.1 299.2L473.4 295.4L473.7 299.2L474.0 299.2L474.3 299.2L474.6 299.2L474.9 295.3L475.2 298.5L475.5 295.2L475.8 297.3L476.1 292.4L476.4 292.3L476.8 291.8L477.1 291.8L477.4 290.9L477.7 291.6L478.0 291.8L478.3 293.5L478.6 295.9L478.9 296.7L479.2 297.4L479.5 293.7L479.8 296.9L480.1 297.8L480.4 294.9L480.7 294.6L481.0 296.2L481.3 291.8L481.6 297.8L481.9 297.4L482.2 298.9L482.5 291.9L482.8 291.8L483.2 295.8L483.5 294.6L483.8 292.3L484.1 295.2L484.4 298.5L484.7 298.8L485.0 299.2L485.3 292.1L485.6 295.8L485.9 294.5L486.2 294.4L486.5 291.8L486.8 294.5L487.1 291.8L487.4 292.5L487.7 293.4L488.0 291.8L488.3 293.4L488.6 291.8L488.9 291.7L489.2 291.3L489.6 294.9L489.9 299.2L490.2 295.7L490.5 296.7L490.8 295.4L491.1 295.4L491.4 295.2L491.7 291.8L492.0 292.9L492.3 291.8L492.6 295.3L492.9 298.3L493.2 296.3L493.5 299.0L493.8 293.0L494.1 295.0L494.4 295.5L494.7 295.4L495.0 293.7L495.3 298.6L495.6 293.7L495.9 299.2L496.3 299.2L496.6 297.8L496.9 299.2L497.2 297.9L497.5 297.3L497.8 297.3L498.1 299.2L498.4 295.3L498.7 297.7L499.0 298.1L499.3 298.8L499.6 295.0L499.9 296.1L500.2 295.9L500.5 296.8L500.8 297.3L501.1 296.7L501.4 297.9L501.7 297.2L502.0 297.2L502.3 298.1L502.7 298.2L503.0 297.6L503.3 298.0L503.6 298.8L503.9 298.3L504.2 299.5L504.5 298.7L504.8 299.4L505.1 297.1L505.4 297.6L505.7 297.1L506.0 297.7L506.3 298.2L506.6 297.2L506.9 298.9L507.2 298.6L507.5 298.4L507.8 299.4L508.1 297.4L508.4 297.0L508.7 298.3L509.1 298.2L509.4 298.6L509.7 299.0L510.0 298.6L510.3 297.8L510.6 298.2L510.9 297.3L511.2 299.0L511.5 298.7L511.8 299.9L512.1 299.5L512.4 299.9L512.7 299.9L513.0 299.9L513.3 299.9L513.6 299.9L513.9 297.7L514.2 299.1L514.5 299.9L514.8 298.7L515.1 297.8L515.4 299.9L515.8 299.9L516.1 299.1L516.4 298.2L516.7 299.4L517.0 299.3L517.3 299.0L517.6 297.3L517.9 296.9L518.2 297.2L518.5 297.7L518.8 296.6L519.1 298.1L519.4 297.3L519.7 296.4L520.0 297.8L520.3 295.7L520.6 295.2L520.9 296.0L521.2 296.2L521.5 298.2L521.8 297.4L522.2 298.6L522.5 298.2L522.8 297.1L523.1 296.9L523.4 293.9L523.7 294.3L524.0 296.2L524.3 294.2L524.6 297.7L524.9 297.6L525.2 296.4L525.5 296.9L525.8 297.5L526.1 295.3L526.4 297.5L526.7 297.4L527.0 296.4L527.3 291.6L527.6 292.7L527.9 293.7L528.2 293.5L528.6 290.8L528.9 292.2L529.2 290.6L529.5 293.5L529.8 292.7L530.1 291.1L530.4 293.6L530.7 295.2L531.0 290.2L531.3 290.1L531.6 291.3L531.9 292.2L532.2 290.1L532.5 290.5L532.8 292.8L533.1 292.5L533.4 296.5L533.7 295.1L534.0 296.5L534.3 296.4L534.6 294.8L534.9 293.3L535.3 294.0L535.6 295.5L535.9 295.6L536.2 296.2L536.5 296.2L536.8 295.0L537.1 289.1L537.4 288.5L537.7 291.5L538.0 290.4L538.3 295.0L538.6 292.6L538.9 296.1L539.2 292.7L539.5 293.6L539.8 292.7L540.1 292.0L540.4 294.0L540.7 293.7L541.0 293.2L541.3 294.0L541.7 290.7L542.0 288.8L542.3 286.4L542.6 284.8L542.9 282.6L543.0 281.9" fill="none" stroke="#000" stroke-width="0.5" stroke-linejoin="miter" stroke-miterlimit="3"/>
<g stroke="#222" stroke-width="1.0" fill="none">
<path d="M323.80 190.90V301.40H543.30"/>
<path d="M378.60 301.40v-2.8M433.40 301.40v-2.8M488.20 301.40v-2.8M543.00 301.40v-2.8" stroke-width="0.7"/>
</g>
<g font-size="9.4">
<text x="318.5" y="304.7" text-anchor="end">0.00</text>
<text x="318.5" y="277.1" text-anchor="end">0.15</text>
<text x="318.5" y="249.4" text-anchor="end">0.30</text>
<text x="318.5" y="221.8" text-anchor="end">0.45</text>
<text x="318.5" y="194.2" text-anchor="end">0.60</text>
</g><g font-size="9.4">
<text x="323.1" y="313.6" text-anchor="middle">0</text>
<text x="377.9" y="313.6" text-anchor="middle">5</text>
<text x="432.7" y="313.6" text-anchor="middle">10</text>
<text x="487.5" y="313.6" text-anchor="middle">15</text>
<text x="542.3" y="313.6" text-anchor="middle">20</text>
</g>
<text font-size="10.8" transform="translate(402.20 326.80) scale(1.1164 1)">Frequency (Hz)</text>
<text font-size="11.3" transform="translate(294.00 291.70) rotate(-90) scale(1.0798 1)">Fourier Amplitude</text>
<path d="M327.4 483.2L327.7 472.8L328.0 473.5L328.3 480.8L328.6 470.8L328.8 474.2L329.1 470.8L329.4 462.2L329.7 455.6L330.0 461.5L330.3 469.2L330.6 466.0L330.9 456.2L331.2 450.0L331.5 454.6L331.7 449.6L332.0 452.6L332.3 459.1L332.6 459.6L332.9 454.0L333.2 467.2L333.5 469.2L333.8 466.6L334.1 465.2L334.3 457.8L334.6 462.7L334.9 466.6L335.2 470.0L335.5 470.6L335.8 458.5L336.1 456.1L336.4 448.2L336.7 465.4L337.0 471.1L337.2 466.6L337.5 463.7L337.8 445.1L338.1 471.9L338.4 466.3L338.7 447.5L339.0 416.5L339.3 443.4L339.6 473.7L339.8 468.6L340.1 474.8L340.4 475.8L340.7 469.6L341.0 470.5L341.3 444.0L341.6 446.1L341.9 428.4L342.2 405.9L342.4 428.3L342.7 448.0L343.0 451.4L343.3 457.4L343.6 434.4L343.9 443.8L344.2 446.6L344.5 468.7L344.8 473.0L345.1 466.5L345.3 456.2L345.6 440.6L345.9 450.1L346.2 430.1L346.5 428.9L346.8 433.0L347.1 446.6L347.4 452.4L347.7 447.5L347.9 470.3L348.2 477.6L348.5 467.7L348.8 455.4L349.1 449.5L349.4 431.8L349.7 433.1L350.0 428.0L350.3 433.6L350.6 466.1L350.8 469.2L351.1 454.9L351.4 473.7L351.7 477.0L352.0 468.9L352.3 474.1L352.6 469.3L352.9 451.3L353.2 453.6L353.4 451.7L353.7 449.4L354.0 446.8L354.3 448.0L354.6 458.4L354.9 451.9L355.2 449.8L355.5 469.6L355.8 470.1L356.1 457.0L356.3 447.7L356.6 471.3L356.9 447.4L357.2 469.2L357.5 475.5L357.8 480.2L358.1 477.0L358.4 480.3L358.7 477.1L358.9 467.5L359.2 445.4L359.5 458.3L359.8 480.4L360.1 480.1L360.4 480.4L360.7 478.0L361.0 462.8L361.3 462.5L361.5 455.8L361.8 473.7L362.1 470.7L362.4 472.7L362.7 476.7L363.0 475.3L363.3 480.4L363.6 459.1L363.9 480.4L364.2 472.6L364.4 445.2L364.7 445.6L365.0 445.1L365.3 445.0L365.6 459.6L365.9 444.9L366.2 449.8L366.5 449.0L366.8 437.6L367.0 445.4L367.3 459.0L367.6 479.2L367.9 476.7L368.2 476.3L368.5 463.9L368.8 472.3L369.1 480.8L369.4 474.7L369.7 480.5L369.9 480.9L370.2 475.4L370.5 481.0L370.8 481.1L371.1 481.1L371.4 460.7L371.7 473.1L372.0 481.3L372.3 464.7L372.5 451.0L372.8 464.4L373.1 468.4L373.4 459.8L373.7 455.7L374.0 457.0L374.3 454.7L374.6 463.4L374.9 465.0L375.2 464.7L375.4 469.7L375.7 481.3L376.0 479.3L376.3 481.1L376.6 481.3L376.9 481.3L377.2 481.3L377.5 468.3L377.8 455.1L378.0 470.1L378.3 480.0L378.6 481.3L378.9 479.6L379.2 481.3L379.5 481.3L379.8 472.8L380.1 476.0L380.4 472.3L380.6 461.7L380.9 457.4L381.2 469.6L381.5 462.7L381.8 476.2L382.1 468.7L382.4 477.0L382.7 481.6L383.0 475.2L383.3 479.8L383.5 476.1L383.8 469.7L384.1 459.4L384.4 459.6L384.7 460.7L385.0 465.6L385.3 471.5L385.6 459.8L385.9 459.9L386.1 460.0L386.4 472.4L386.7 467.1L387.0 460.2L387.3 462.5L387.6 460.8L387.9 461.7L388.2 465.8L388.5 458.7L388.8 452.2L389.0 461.0L389.3 467.8L389.6 466.5L389.9 467.3L390.2 461.4L390.5 480.6L390.8 468.9L391.1 472.2L391.4 475.2L391.6 482.6L391.9 480.5L392.2 481.9L392.5 480.1L392.8 482.8L393.1 482.8L393.4 482.9L393.7 476.6L394.0 468.1L394.3 482.4L394.5 470.4L394.8 468.2L395.1 469.5L395.4 477.2L395.7 480.3L396.0 471.0L396.3 467.8L396.6 472.9L396.9 476.9L397.1 464.8L397.4 471.9L397.7 483.2L398.0 476.9L398.3 473.7L398.6 477.5L398.9 477.3L399.2 472.8L399.5 473.7L399.7 477.3L400.0 477.9L400.3 476.0L400.6 483.2L400.9 478.6L401.2 481.6L401.5 475.5L401.8 470.6L402.1 469.2L402.4 473.1L402.6 479.5L402.9 469.7L403.2 468.3L403.5 478.9L403.8 475.4L404.1 481.2L404.4 475.1L404.7 482.7L405.0 480.9L405.2 480.7L405.5 483.2L405.8 477.9L406.1 470.5L406.4 475.8L406.7 477.2L407.0 471.0L407.3 471.6L407.6 481.0L407.9 473.6L408.1 481.2L408.4 477.4L408.7 466.0L409.0 476.3L409.3 483.3L409.6 482.4L409.9 478.0L410.2 473.3L410.5 483.6L410.7 481.0L411.0 472.0L411.3 478.1L411.6 477.6L411.9 483.3L412.2 473.6L412.5 475.7L412.8 478.1L413.1 481.9L413.4 480.5L413.6 475.8L413.9 481.1L414.2 477.6L414.5 476.1L414.8 475.2L415.1 474.5L415.4 477.9L415.7 475.8L416.0 475.5L416.2 484.0L416.5 477.5L416.8 483.1L417.1 484.1L417.4 482.3L417.7 479.9L418.0 483.0L418.3 483.8L418.6 482.5L418.8 483.5L419.1 480.5L419.4 481.5L419.7 482.0L420.0 475.1L420.3 481.9L420.6 478.8L420.9 478.3L421.2 474.9L421.5 478.5L421.7 479.4L422.0 479.3L422.3 480.0L422.6 476.5L422.9 479.4L423.2 481.3L423.5 483.9L423.8 484.1L424.1 482.0L424.3 484.1L424.6 484.1L424.9 482.2L425.2 479.7L425.5 480.6L425.8 481.0L426.1 480.9L426.4 484.1L426.7 481.1L427.0 477.7L427.2 475.8L427.5 477.5L427.8 484.0L428.1 481.5L428.4 478.8L428.7 479.2L429.0 480.1L429.3 478.5L429.6 479.6L429.8 477.8L430.1 480.2L430.4 480.6L430.7 484.1L431.0 482.5L431.3 479.6L431.6 480.2L431.9 478.0L432.2 478.1L432.5 477.0L432.7 479.1L433.0 477.7L433.3 477.5L433.6 475.6L433.9 478.0L434.2 475.6L434.5 475.7L434.8 479.4L435.1 477.7L435.3 479.7L435.6 475.8L435.9 475.8L436.2 478.1L436.5 478.7L436.8 475.9L437.1 475.9L437.4 476.9L437.7 476.0L438.0 476.8L438.2 479.2L438.5 476.9L438.8 477.9L439.1 480.4L439.4 479.4L439.7 477.5L440.0 477.6L440.3 477.8L440.6 476.2L440.8 476.3L441.1 480.7L441.4 477.2L441.7 480.1L442.0 482.5L442.3 480.2L442.6 482.4L442.9 482.7L443.2 482.4L443.4 480.0L443.7 480.3L444.0 476.7L444.3 479.1L444.6 480.8L444.9 483.2L445.2 481.0L445.5 484.1L445.8 483.8L446.1 484.1L446.3 484.1L446.6 484.1L446.9 484.1L447.2 482.1L447.5 484.1L447.8 481.4L448.1 482.0L448.4 479.2L448.7 477.0L448.9 478.5L449.2 478.0L449.5 477.3L449.8 480.0L450.1 478.8L450.4 479.0L450.7 483.2L451.0 478.7L451.3 481.1L451.6 484.1L451.8 480.5L452.1 478.1L452.4 479.7L452.7 480.2L453.0 483.0L453.3 477.4L453.6 477.4L453.9 484.1L454.2 480.5L454.4 483.6L454.7 480.9L455.0 484.1L455.3 482.3L455.6 484.1L455.9 483.2L456.2 483.5L456.5 481.8L456.8 484.1L457.1 483.1L457.3 482.0L457.6 481.4L457.9 479.0L458.2 481.6L458.5 480.0L458.8 481.3L459.1 482.8L459.4 483.2L459.7 480.1L459.9 483.5L460.2 481.7L460.5 480.9L460.8 478.8L461.1 477.7L461.4 480.5L461.7 482.3L462.0 479.6L462.3 479.7L462.5 481.7L462.8 483.0L463.1 484.1L463.4 483.8L463.7 482.2L464.0 480.2L464.3 478.4L464.6 479.3L464.9 482.4L465.2 482.2L465.4 482.1L465.7 484.1L466.0 484.1L466.3 483.1L466.6 478.6L466.9 482.6L467.2 481.7L467.5 481.8L467.8 483.6L468.0 484.1L468.3 481.8L468.6 484.1L468.9 482.6L469.2 484.1L469.5 482.6L469.8 484.1L470.1 480.7L470.4 480.4L470.7 479.3L470.9 479.5L471.2 479.8L471.5 479.5L471.8 479.6L472.1 478.2L472.4 481.7L472.7 479.3L473.0 480.1L473.3 482.8L473.5 478.9L473.8 482.0L474.1 480.5L474.4 480.0L474.7 481.8L475.0 478.4L475.3 478.9L475.6 483.7L475.9 483.6L476.2 481.3L476.4 481.6L476.7 481.5L477.0 483.7L477.3 484.1L477.6 483.9L477.9 479.8L478.2 480.4L478.5 480.2L478.8 479.1L479.0 479.4L479.3 478.6L479.6 478.6L479.9 481.1L480.2 481.0L480.5 483.3L480.8 480.8L481.1 482.3L481.4 480.4L481.6 480.8L481.9 481.4L482.2 482.2L482.5 479.2L482.8 478.7L483.1 483.2L483.4 480.8L483.7 478.8L484.0 483.2L484.3 482.0L484.5 482.5L484.8 480.7L485.1 482.1L485.4 480.3L485.7 479.6L486.0 483.5L486.3 482.2L486.6 481.3L486.9 478.8L487.1 479.7L487.4 478.8L487.7 482.6L488.0 478.8L488.3 478.8L488.6 479.3L488.9 480.5L489.2 481.4L489.5 481.2L489.8 482.6L490.0 483.7L490.3 484.1L490.6 482.7L490.9 483.0L491.2 483.7L491.5 482.7L491.8 480.7L492.1 482.1L492.4 482.8L492.6 482.5L492.9 481.5L493.2 480.3L493.5 480.2L493.8 484.1L494.1 480.9L494.4 483.1L494.7 484.1L495.0 484.1L495.3 482.4L495.5 482.3L495.8 481.8L496.1 484.1L496.4 484.1L496.7 482.8L497.0 484.1L497.3 483.9L497.6 480.9L497.9 484.1L498.1 481.4L498.4 478.8L498.7 478.8L499.0 481.4L499.3 478.8L499.6 479.7L499.9 481.1L500.2 481.8L500.5 481.2L500.7 481.1L501.0 480.9L501.3 484.1L501.6 484.1L501.9 484.0L502.2 484.1L502.5 483.5L502.8 484.1L503.1 481.0L503.4 481.4L503.6 480.3L503.9 480.1L504.2 479.9L504.5 482.3L504.8 480.2L505.1 481.7L505.4 479.8L505.7 483.2L506.0 479.9L506.2 481.5L506.5 480.8L506.8 483.6L507.1 479.7L507.4 478.8L507.7 478.8L508.0 480.6L508.3 479.4L508.6 478.9L508.9 481.3L509.1 478.8L509.4 479.2L509.7 480.6L510.0 482.8L510.3 479.7L510.6 478.8L510.9 483.0L511.2 479.4L511.5 483.8L511.7 480.5L512.0 479.9L512.3 483.2L512.6 479.9L512.9 483.2L513.2 483.7L513.5 483.6L513.8 483.1L514.1 481.2L514.4 482.3L514.6 484.1L514.9 481.8L515.2 483.3L515.5 483.2L515.8 482.2L516.1 481.1L516.4 482.3L516.7 482.3L517.0 482.3L517.2 481.6L517.5 480.2L517.8 480.4L518.1 480.7L518.4 481.1L518.7 480.2L519.0 478.8L519.3 480.6L519.6 479.9L519.8 482.1L520.1 479.6L520.4 478.8L520.7 479.4L521.0 479.8L521.3 478.8L521.6 480.2L521.9 479.7L522.2 478.8L522.5 478.8L522.7 480.5L523.0 480.4L523.3 483.1L523.6 479.5L523.9 482.9L524.2 481.5L524.5 480.5L524.8 482.2L525.1 478.8L525.3 479.1L525.6 480.2L525.9 478.8L526.2 479.8L526.5 480.1L526.8 480.1L527.1 479.1L527.4 483.1L527.7 483.0L528.0 482.9L528.2 484.1L528.5 479.5L528.8 483.0L529.1 483.0L529.4 482.8L529.7 483.6L530.0 484.1L530.3 484.1L530.6 484.1L530.8 482.7L531.1 483.1L531.4 482.6L531.7 481.4L532.0 480.5L532.3 480.0L532.6 481.7L532.9 479.8L533.2 478.8L533.5 481.5L533.7 482.4L534.0 483.8L534.3 482.7L534.6 480.5L534.9 482.9L535.2 484.1L535.5 482.4" fill="none" stroke="#000" stroke-width="0.5" stroke-linejoin="miter" stroke-miterlimit="3"/>
<g stroke="#222" stroke-width="1.0" fill="none">
<path d="M327.40 374.60V485.00H535.90"/>
<path d="M379.45 485.00v-2.8M431.50 485.00v-2.8M483.55 485.00v-2.8M535.60 485.00v-2.8" stroke-width="0.7"/>
</g>
<g font-size="11.0">
<text x="322.4" y="489.0" text-anchor="end">0.0</text>
<text x="322.4" y="461.4" text-anchor="end">0.3</text>
<text x="322.4" y="433.8" text-anchor="end">0.6</text>
<text x="322.4" y="406.2" text-anchor="end">0.9</text>
<text x="322.4" y="378.6" text-anchor="end">1.2</text>
</g><g font-size="10.0">
<text x="326.7" y="498.8" text-anchor="middle">0</text>
<text x="378.8" y="498.8" text-anchor="middle">5</text>
<text x="430.8" y="498.8" text-anchor="middle">10</text>
<text x="482.9" y="498.8" text-anchor="middle">15</text>
<text x="534.9" y="498.8" text-anchor="middle">20</text>
</g>
<text font-size="10.6" transform="translate(401.80 509.10) scale(1.1300 1)">Frequency (Hz)</text>
<text font-size="11.3" transform="translate(301.10 474.10) rotate(-90) scale(1.0822 1)">Fourier Amplitude</text>
<text font-size="12.4" text-anchor="middle" x="136.60" y="172.60">(<tspan font-weight="bold">a</tspan>)</text>
<text font-size="12.4" text-anchor="middle" x="416.20" y="171.60">(<tspan font-weight="bold">b</tspan>)</text>
<text font-size="12.4" text-anchor="middle" x="136.60" y="354.60">(<tspan font-weight="bold">c</tspan>)</text>
<text font-size="12.4" text-anchor="middle" x="416.20" y="355.00">(<tspan font-weight="bold">d</tspan>)</text>
<text font-size="12.4" text-anchor="middle" x="136.60" y="537.00">(<tspan font-weight="bold">e</tspan>)</text>
<text font-size="12.4" text-anchor="middle" x="416.20" y="536.60">(<tspan font-weight="bold">f</tspan>)</text>
<path d="M199.90 18.50H228.10" stroke="#555" stroke-width="0.9"/>
<text font-size="10.2" transform="translate(230.80 21.80) scale(1.0224 1)">SHW1</text>
<path d="M465.20 20.15H491.40" stroke="#555" stroke-width="0.9"/>
<text font-size="10.2" transform="translate(493.60 22.80) scale(1.1087 1)">SHW1</text>
<path d="M195.20 201.80H223.20" stroke="#555" stroke-width="0.9"/>
<text font-size="10.4" transform="translate(225.90 205.00) scale(1.0297 1)">SHJY</text>
<path d="M473.70 200.20H501.30" stroke="#555" stroke-width="0.9"/>
<text font-size="10.6" transform="translate(505.20 204.00) scale(1.0260 1)">SHJY</text>
<path d="M155.00 389.40H183.00" stroke="#555" stroke-width="0.9"/>
<text font-size="10.6" transform="translate(184.50 392.60) scale(1.0331 1)">El Centro, N-S</text>
<path d="M429.70 387.45H455.90" stroke="#555" stroke-width="0.9"/>
<text font-size="11.2" transform="translate(459.10 390.60) scale(1.0585 1)">El Centro, N-S</text>
</svg>
</body></html>
